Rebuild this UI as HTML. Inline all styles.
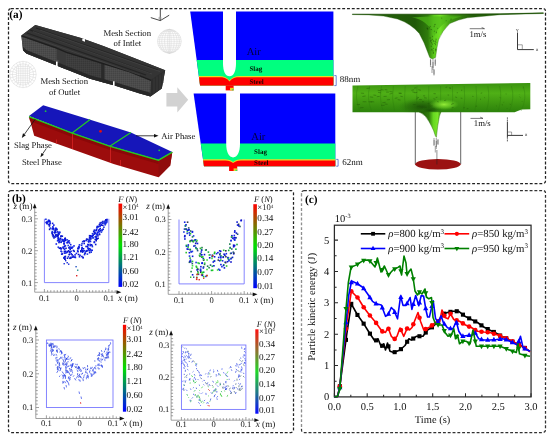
<!DOCTYPE html>
<html lang="en"><head><meta charset="utf-8"><title>Figure</title>
<style>html,body{margin:0;padding:0;background:#fff;}body{width:550px;height:440px;overflow:hidden;}svg{display:block;font-family:"Liberation Serif",serif;text-rendering:geometricPrecision;}</style></head><body>
<svg width="550" height="440" viewBox="0 0 550 440">
<defs>
<linearGradient id="cbar" x1="0" y1="0" x2="0" y2="1"><stop offset="0" stop-color="#ff0000"/><stop offset="0.5" stop-color="#00e000"/><stop offset="1" stop-color="#0000ff"/></linearGradient>
<linearGradient id="cbar2" x1="0" y1="0" x2="0" y2="1"><stop offset="0" stop-color="#ff1010"/><stop offset="0.25" stop-color="#907030"/><stop offset="0.5" stop-color="#20d828"/><stop offset="0.75" stop-color="#207888"/><stop offset="1" stop-color="#0808ff"/></linearGradient>
<linearGradient id="gslab" x1="0" y1="0" x2="0" y2="1"><stop offset="0" stop-color="#3a920f"/><stop offset="0.35" stop-color="#4fb016"/><stop offset="0.75" stop-color="#3a920f"/><stop offset="1" stop-color="#2c820b"/></linearGradient>
<linearGradient id="gfun" gradientUnits="userSpaceOnUse" x1="396" y1="0" x2="472" y2="0"><stop offset="0" stop-color="#225c09"/><stop offset="0.25" stop-color="#1f5808"/><stop offset="0.42" stop-color="#2f7c0c"/><stop offset="0.5" stop-color="#5ccc1c"/><stop offset="0.58" stop-color="#72e226"/><stop offset="0.72" stop-color="#3f9812"/><stop offset="1" stop-color="#225c09"/></linearGradient>
<linearGradient id="gfun2" gradientUnits="userSpaceOnUse" x1="419" y1="0" x2="441" y2="0"><stop offset="0" stop-color="#1f5808"/><stop offset="0.45" stop-color="#2f7c0c"/><stop offset="0.65" stop-color="#66d820"/><stop offset="0.85" stop-color="#7ae62a"/><stop offset="1" stop-color="#3a8f10"/></linearGradient>
<radialGradient id="gtop" cx="0.5" cy="0.1" r="0.6"><stop offset="0" stop-color="#6ed422"/><stop offset="1" stop-color="#3a9410"/></radialGradient>
<pattern id="mesh" width="2" height="2" patternUnits="userSpaceOnUse"><rect width="2" height="2" fill="#444"/><path d="M0 0H2M0 0V2" stroke="#606060" stroke-width="0.5"/></pattern>
<radialGradient id="dipShadow" cx="0.5" cy="0.5" r="0.5"><stop offset="0" stop-color="#184a06" stop-opacity="0.85"/><stop offset="0.6" stop-color="#1f5c08" stop-opacity="0.45"/><stop offset="1" stop-color="#2a7a0c" stop-opacity="0"/></radialGradient>
<radialGradient id="dipLight" cx="0.5" cy="0.5" r="0.5"><stop offset="0" stop-color="#98f03a" stop-opacity="0.95"/><stop offset="0.6" stop-color="#7ade2a" stop-opacity="0.5"/><stop offset="1" stop-color="#60c81e" stop-opacity="0"/></radialGradient>
<clipPath id="slabClip"><polygon points="352.5,85.6 530.3,83 530.3,109.3 521.5,109.5 514.6,112.3 352.5,112.3"/></clipPath>
</defs>
<rect width="550" height="440" fill="#fff"/>
<rect x="8.5" y="8.5" width="537.0" height="175.0" rx="2.5" ry="2.5" fill="none" stroke="#222" stroke-width="1.25" stroke-dasharray="2.9 1.9"/>
<rect x="8.5" y="190.5" width="285.0" height="242.0" rx="2.5" ry="2.5" fill="none" stroke="#222" stroke-width="1.25" stroke-dasharray="2.9 1.9"/>
<rect x="301.5" y="190.5" width="244.0" height="242.0" rx="2.5" ry="2.5" fill="none" stroke="#333" stroke-width="1.25" stroke-dasharray="2.9 1.9"/>
<line x1="301.5" y1="194" x2="301.5" y2="429" stroke="#fff" stroke-width="2.2" opacity="0.45"/>
<text x="9.3" y="17.6" font-size="11.3" text-anchor="start" font-weight="bold" font-style="normal" fill="#000" >(a)</text>
<text x="12.0" y="202.4" font-size="11.3" text-anchor="start" font-weight="bold" font-style="normal" fill="#000" >(b)</text>
<text x="305.0" y="202.6" font-size="11.3" text-anchor="start" font-weight="bold" font-style="normal" fill="#000" >(c)</text>
<g id="meshTundish">
<polygon points="21.4,35.5 35.3,24.9 81.1,38 104,46.2 132.2,57.2 165.2,70.2 161.8,88.4 150.5,96.4 139,93.2 116.2,86 90,78.8 56.6,65.6 26.3,53.6 23,50.3" fill="#333"/>
<polygon points="21.4,35.5 35.3,24.9 81.1,38 104,46.2 132.2,57.2 165.2,70.2 151,79.9 130,71.4 104,63.4 66.4,51.9 56.6,47.8" fill="#343434"/>
<polygon points="21.4,36.2 56.6,48.5 66.4,52.6 104,64.1 130,72.1 151,80.6 150.5,96.4 139,93.2 116.2,86 90,78.8 56.6,65.6 26.3,53.6 23,50.3" fill="url(#mesh)"/>
<polygon points="66.4,52.6 104,64.1 104,82.6 90,78.8 66.4,69.4" fill="#000" opacity="0.18"/>
<polygon points="56.6,48.5 66.4,52.6 66.4,69.4 58.6,66.4 58.6,60 56.6,59.4" fill="#3a3a3a"/>
<polygon points="101.2,63.2 104.6,64.3 104.6,82.7 101.2,81.7" fill="#2a2a2a"/>
<polygon points="151,80 165.2,70.2 161.8,88.4 150.5,96.4" fill="#2c2c2c"/>
<path d="M154,78.5V93.5M157,76.5V91.5M160,74.5V89.5M163,72.5V83" stroke="#3e3e3e" stroke-width="0.8" fill="none"/>
<polygon points="23,46.8 26.3,50 56.6,62 90,75.2 116.2,82.4 139,89.6 150.5,92.8 150.5,96.4 139,93.2 116.2,86 90,78.8 56.6,65.6 26.3,53.6 23,50.3" fill="#272727"/>
<polyline points="21.4,35.9 56.6,48.2 66.4,52.3 104,63.8 130,71.8 151,80.3" fill="none" stroke="#1e1e1e" stroke-width="1.3"/>
<path d="M30,30L150,73M27,33L146,75M36,28L158,70" stroke="#242424" stroke-width="1.1" fill="none"/>
<path d="M33,31.5L152,74M40,30L160,71.5M24,34.6L140,75" stroke="#4a4a4a" stroke-width="0.6" fill="none"/>
<path d="M82.3,38.4l2.7,0.9v2.4l-2.7,-0.9z" fill="#fff"/>
<rect x="56" y="61.6" width="1.6" height="5" fill="#fff"/>
<rect x="113" y="81.3" width="1.6" height="4.8" fill="#fff"/>
</g>
<g fill="none" stroke="#d2d2d2" stroke-width="0.45">
<circle cx="23" cy="74.5" r="13.2"/>
<circle cx="23" cy="74.5" r="10.6"/>
<rect x="16.4" y="66.3" width="13.2" height="16.4" rx="2" ry="2"/>
<path d="M18.6,66.3V82.7M20.8,66.3V82.7M23.0,66.3V82.7M25.2,66.3V82.7M27.4,66.3V82.7M16.4,68.7H29.6M16.4,71.0H29.6M16.4,73.3H29.6M16.4,75.7H29.6M16.4,78.0H29.6M16.4,80.3H29.6M29.6,74.5L36.2,74.5M29.6,76.3L35.8,77.9M29.6,78.3L34.4,81.1M29.6,81.1L32.3,83.8M27.7,82.7L29.6,85.9M25.2,82.7L26.4,87.3M23.0,82.7L23.0,87.7M20.8,82.7L19.6,87.3M18.3,82.7L16.4,85.9M16.4,81.1L13.7,83.8M16.4,78.3L11.6,81.1M16.4,76.3L10.2,77.9M16.4,74.5L9.8,74.5M16.4,72.7L10.2,71.1M16.4,70.7L11.6,67.9M16.4,67.9L13.7,65.2M18.3,66.3L16.4,63.1M20.8,66.3L19.6,61.7M23.0,66.3L23.0,61.3M25.2,66.3L26.4,61.7M27.7,66.3L29.6,63.1M29.6,67.9L32.3,65.2M29.6,70.7L34.4,67.9M29.6,72.7L35.8,71.1"/>
</g>
<g fill="none" stroke="#d2d2d2" stroke-width="0.45">
<circle cx="169.4" cy="41.3" r="11.9"/>
<path d="M162.8,31.4H176.0M160.5,33.4H178.3M159.1,35.4H179.7M158.2,37.3H180.6M157.7,39.3H181.1M157.5,41.3H181.3M157.7,43.3H181.1M158.2,45.3H180.6M159.1,47.2H179.7M160.5,49.2H178.3M162.8,51.2H176.0"/>
<ellipse cx="169.4" cy="41.3" rx="1.8" ry="11.9"/>
<ellipse cx="169.4" cy="41.3" rx="4.8" ry="11.9"/>
<ellipse cx="169.4" cy="41.3" rx="7.7" ry="11.9"/>
<ellipse cx="169.4" cy="41.3" rx="10.1" ry="11.9"/>
<line x1="169.4" y1="29.4" x2="169.4" y2="53.199999999999996"/>
</g>
<path d="M160.3,8.8V20.6L150.8,17.6M160.3,20.6L169.2,15.2" stroke="#333" stroke-width="0.9" fill="none"/>
<circle cx="160" cy="18" r="1.6" fill="#999" opacity="0.7"/>
<text x="127.3" y="36.0" font-size="8.7" text-anchor="middle" font-weight="normal" font-style="normal" fill="#111" >Mesh Section</text>
<text x="127.3" y="46.3" font-size="8.7" text-anchor="middle" font-weight="normal" font-style="normal" fill="#111" >of Intlet</text>
<text x="64.3" y="84.0" font-size="8.7" text-anchor="middle" font-weight="normal" font-style="normal" fill="#111" >Mesh Section</text>
<text x="64.5" y="95.0" font-size="8.7" text-anchor="middle" font-weight="normal" font-style="normal" fill="#111" >of Outlet</text>
<g id="colTundish">
<polygon points="29,116.4 34.2,135.8 65.3,146.8 113.6,164.1 158.5,177.2 170.2,165.5 172.3,152 158.5,160 110.2,146.1 72.2,133" fill="#9c0c0c"/>
<polygon points="158.5,160 172.3,152 170.2,165.5 158.5,177.2" fill="#900c0c"/>
<polygon points="29,116.4 72.2,133 110.2,146.1 158.5,160 158.5,164 110.2,150 72.2,137 30,121" fill="#8a0808"/>
<polygon points="29,116 43.2,105.3 89.5,119.6 130.9,132.5 172.3,152 158.5,160 110.2,146.1 72.2,133" fill="#1616ba"/>
<polyline points="29,116.6 72.2,133.2 110.2,146.3 158.5,160.2 172.3,152.2" fill="none" stroke="#22cc22" stroke-width="1.4"/>
<path d="M72.2,133L90.1,119.6M110.2,146.1L130.9,132.5" stroke="#22cc22" stroke-width="1.2" fill="none"/>
<path d="M72.5,134V149M110.5,147V163M56.5,139.5V143.5M120.5,160V166" stroke="#d02020" stroke-width="0.9" fill="none"/>
<circle cx="100.5" cy="131.3" r="1.4" fill="#e01010"/>
<circle cx="45.6" cy="111.2" r="0.9" fill="#20c040"/>
<circle cx="159.2" cy="150.3" r="0.9" fill="#20c040"/>
</g>
<line x1="136.0" y1="135.8" x2="154.0" y2="135.8" stroke="#111" stroke-width="0.8"/>
<polygon points="158.5,135.8 154.0,137.5 154.0,134.1" fill="#111"/>
<line x1="35.5" y1="118.8" x2="24.4" y2="134.3" stroke="#111" stroke-width="0.8"/>
<polygon points="21.8,138.0 23.0,133.3 25.8,135.3" fill="#111"/>
<line x1="46.3" y1="148.5" x2="42.6" y2="153.9" stroke="#111" stroke-width="0.8"/>
<polygon points="40.4,157.2 41.4,153.0 43.9,154.7" fill="#111"/>
<text x="161.3" y="138.6" font-size="8.7" text-anchor="start" font-weight="normal" font-style="normal" fill="#111" >Air Phase</text>
<text x="14.0" y="148.0" font-size="8.7" text-anchor="start" font-weight="normal" font-style="normal" fill="#111" >Slag Phase</text>
<text x="22.0" y="165.2" font-size="8.7" text-anchor="start" font-weight="normal" font-style="normal" fill="#111" >Steel Phase</text>
<polygon points="166.4,93.1 177.3,93.1 177.3,87.3 188.2,99.7 177.3,112.4 177.3,106.4 166.4,106.4" fill="#d2d2d2"/>
<polygon points="190.2,11.4 333.4,11.4 333.4,85.6 200.1,85.6" fill="#0000ff"/>
<polygon points="196.7,60.0 333.4,60.0 333.4,85.6 200.1,85.6" fill="#00ff7f"/>
<polygon points="198.8,76.1 333.4,76.1 333.4,85.6 200.1,85.6" fill="#f0d820"/>
<polygon points="199.0,77.2 333.4,77.2 333.4,85.6 200.1,85.6" fill="#ff0000"/>
<path d="M216.0,76.0 Q226.2,76.6 229.5,81.6 Q232.8,76.6 243.0,76.0 Z" fill="#f0d820"/>
<path d="M219.0,75.9 Q226.6,76.0 229.5,80.5 Q232.4,76.0 240.0,75.9 Z" fill="#00ff7f"/>
<rect x="225.7" y="85.4" width="7.9" height="5.0" fill="#ff0000"/>
<rect x="230.0" y="87.8" width="3.6" height="2.6" fill="#f0d020"/>
<rect x="231.9" y="89.1" width="1.7" height="1.3" fill="#40e060"/>
<path d="M223,10.9 V63.3 C223,71.8 225.6,76.3 229.5,76.3 C233.4,76.3 236,71.8 236,63.3 V10.9 Z" fill="#fff"/>
<text x="246.7" y="54.5" font-size="10.5" text-anchor="start" font-weight="normal" font-style="normal" fill="#000038" >Air</text>
<text x="249.4" y="70.7" font-size="7" text-anchor="start" font-weight="bold" font-style="normal" fill="#001808" >Slag</text>
<text x="249.4" y="83.6" font-size="7" text-anchor="start" font-weight="bold" font-style="normal" fill="#300000" >Steel</text>
<polygon points="193.6,93.6 335.3,93.6 335.3,166.2 204,166.2" fill="#0000ff"/>
<polygon points="200.8,143.6 335.3,143.6 335.3,166.2 204,166.2" fill="#00ff7f"/>
<polygon points="203.0,159.3 335.3,159.3 335.3,166.2 204,166.2" fill="#f0d820"/>
<polygon points="203.2,160.4 335.3,160.4 335.3,166.2 204,166.2" fill="#ff0000"/>
<path d="M219.2,159.2 Q229.6,159.8 233.1,163.1 Q236.6,159.8 247.0,159.2 Z" fill="#f0d820"/>
<path d="M222.2,159.1 Q230.0,159.2 233.1,162.0 Q236.2,159.2 244.0,159.1 Z" fill="#00ff7f"/>
<rect x="229.1" y="166.0" width="8.1" height="5.0" fill="#ff0000"/>
<rect x="233.6" y="168.4" width="3.6" height="2.6" fill="#f0d020"/>
<rect x="235.4" y="169.7" width="1.8" height="1.3" fill="#40e060"/>
<path d="M226.2,93.1 V143.6 C226.2,152.6 229.0,157.4 233.1,157.4 C237.2,157.4 240,152.6 240,143.6 V93.1 Z" fill="#fff"/>
<text x="251.3" y="139.6" font-size="10.5" text-anchor="start" font-weight="normal" font-style="normal" fill="#000038" >Air</text>
<text x="254.1" y="154.1" font-size="7" text-anchor="start" font-weight="bold" font-style="normal" fill="#001808" >Slag</text>
<text x="254.1" y="165.2" font-size="7" text-anchor="start" font-weight="bold" font-style="normal" fill="#300000" >Steel</text>
<path d="M334.3,75.6H336.2V85.6H334.3" fill="none" stroke="#3050c0" stroke-width="0.7"/>
<path d="M336.2,159.4H338.1V166.2H336.2" fill="none" stroke="#3050c0" stroke-width="0.7"/>
<text x="339.7" y="81.5" font-size="9" text-anchor="start" font-weight="normal" font-style="normal" fill="#111" >88nm</text>
<text x="342.2" y="164.7" font-size="9" text-anchor="start" font-weight="normal" font-style="normal" fill="#111" >62nm</text>
<g id="vortex1">
<path d="M352.3,14.6 L369,14.9 L383.6,16.1 L397.5,19 Q410.5,23.4 419.3,33.4 Q424.7,43 428,53 L429.7,57.4 L432.4,59 L435.6,57.4 Q436.7,48 438.5,39.9 Q442,31 449.8,23.5 Q458,19.6 467.3,17.8 L500,14.7 L543.4,13.5 L543.4,12.8 L500,13.7 L440,14.2 L380,14.3 L352.3,14.2 Z" fill="url(#gfun)" stroke="#245f08" stroke-width="0.35"/>
<path d="M352.3,14.3 L440,14.3 L500,14 L543.4,13.1" stroke="#1d4c08" stroke-width="0.65" fill="none"/>
<path d="M412,17.5 Q428,20 434.5,36 Q440,21 462,16.5 Q435,15.6 412,17.5 Z" fill="#4fb818" opacity="0.7"/>
<g stroke="#143805" stroke-width="0.5" opacity="0.85">
<line x1="434.3" y1="25.8" x2="434.1" y2="27.2"/>
<line x1="431.0" y1="40.2" x2="430.4" y2="41.8"/>
<line x1="429.2" y1="26.6" x2="429.8" y2="27.9"/>
<line x1="433.4" y1="47.9" x2="433.6" y2="48.9"/>
<line x1="435.6" y1="40.5" x2="435.6" y2="42.0"/>
<line x1="431.2" y1="41.8" x2="431.5" y2="43.2"/>
<line x1="427.0" y1="28.1" x2="427.5" y2="29.4"/>
<line x1="435.4" y1="43.6" x2="435.7" y2="45.3"/>
<line x1="436.5" y1="31.6" x2="436.5" y2="33.3"/>
<line x1="431.8" y1="49.5" x2="431.3" y2="50.5"/>
<line x1="433.2" y1="52.7" x2="433.4" y2="53.8"/>
<line x1="432.7" y1="35.8" x2="432.5" y2="37.2"/>
<line x1="436.0" y1="38.6" x2="436.2" y2="40.3"/>
<line x1="435.7" y1="48.7" x2="435.9" y2="49.6"/>
<line x1="435.5" y1="48.8" x2="436.0" y2="50.2"/>
<line x1="432.0" y1="43.4" x2="432.4" y2="44.8"/>
<line x1="427.1" y1="27.5" x2="427.6" y2="29.3"/>
<line x1="446.2" y1="20.3" x2="446.1" y2="21.2"/>
<line x1="437.3" y1="27.9" x2="437.7" y2="28.7"/>
<line x1="430.8" y1="39.7" x2="431.1" y2="40.9"/>
<line x1="435.6" y1="49.6" x2="435.6" y2="51.4"/>
<line x1="427.9" y1="28.5" x2="428.0" y2="29.3"/>
<line x1="434.6" y1="24.3" x2="434.7" y2="25.3"/>
<line x1="451.1" y1="18.6" x2="450.9" y2="20.3"/>
<line x1="433.0" y1="50.2" x2="432.9" y2="51.5"/>
<line x1="434.0" y1="40.8" x2="434.1" y2="42.2"/>
<line x1="433.5" y1="51.8" x2="433.4" y2="53.3"/>
<line x1="430.0" y1="25.8" x2="430.6" y2="27.1"/>
<line x1="430.2" y1="37.3" x2="430.1" y2="38.7"/>
<line x1="441.6" y1="17.7" x2="441.7" y2="18.6"/>
<line x1="433.3" y1="40.2" x2="433.5" y2="41.4"/>
<line x1="434.7" y1="43.2" x2="434.1" y2="44.0"/>
<line x1="436.0" y1="42.0" x2="435.7" y2="43.3"/>
<line x1="432.4" y1="38.9" x2="432.2" y2="40.0"/>
<line x1="434.5" y1="30.7" x2="434.3" y2="31.8"/>
<line x1="431.3" y1="45.6" x2="431.3" y2="47.1"/>
<line x1="429.8" y1="28.5" x2="430.2" y2="29.5"/>
<line x1="435.1" y1="23.9" x2="435.4" y2="24.8"/>
<line x1="431.4" y1="28.9" x2="431.8" y2="30.2"/>
<line x1="432.0" y1="48.7" x2="431.9" y2="50.1"/>
</g>
<path d="M430.5,58.5V67M433,59V70M435.3,58.5V66M432,66V73M434,69V75.5" stroke="#aaa" stroke-width="1.1" fill="none"/>
<path d="M430.6,60V65M433,62V68M435.2,60V64.5M434,70V74.5" stroke="#333" stroke-width="0.45" fill="none"/>
</g>
<path d="M469.7,28.7H484.5M484.5,28.7l-2.8,-1.2" stroke="#222" stroke-width="0.6" fill="none"/>
<text x="469.5" y="36.8" font-size="8.7" text-anchor="start" font-weight="normal" font-style="normal" fill="#111" >1m/s</text>
<path d="M517.5,32.5V49.6H533.8" stroke="#222" stroke-width="0.9" fill="none"/><path d="M517.5,44.8H522.3V49.6" stroke="#444" stroke-width="0.5" fill="none"/>
<text x="517.2" y="31.5" font-size="4.5" text-anchor="middle" font-weight="normal" font-style="normal" fill="#111" font-family="Liberation Sans, sans-serif">Y</text>
<text x="536.0" y="50.5" font-size="4.5" text-anchor="start" font-weight="normal" font-style="normal" fill="#111" font-family="Liberation Sans, sans-serif">x</text>
<g id="vortex2">
<path d="M415.3,110V164.2M460.7,110V164.2" stroke="#222" stroke-width="0.7" fill="none"/>
<ellipse cx="437.9" cy="164.3" rx="22.7" ry="5.3" fill="#9b1212"/>
<path d="M436.9,150V164.5" stroke="#222" stroke-width="0.5"/>
<polygon points="352.5,85.6 530.3,83 530.3,109.3 521.5,109.5 514.6,112.3 352.5,112.3" fill="url(#gslab)"/>
<g stroke="#2d7a0c" stroke-width="0.5" fill="none" opacity="0.7">
<path d="M358.0,86 q-4.0,12 2.0,25"/>
<path d="M369.8,86 q-3.4,12 1.7,25"/>
<path d="M381.6,86 q-2.8,12 1.4,25"/>
<path d="M393.4,86 q-2.2,12 1.1,25"/>
<path d="M405.2,86 q-1.6,12 0.8,25"/>
<path d="M417.0,86 q-1.0,12 0.5,25"/>
<path d="M428.8,86 q-0.4,12 0.2,25"/>
<path d="M440.6,86 q0.2,12 -0.1,25"/>
<path d="M452.4,86 q0.8,12 -0.4,25"/>
<path d="M464.2,86 q1.4,12 -0.7,25"/>
<path d="M476.0,86 q2.0,12 -1.0,25"/>
<path d="M487.8,86 q2.5,12 -1.3,25"/>
<path d="M499.6,86 q3.1,12 -1.6,25"/>
<path d="M511.4,86 q3.7,12 -1.9,25"/>
<path d="M523.2,86 q4.3,12 -2.2,25"/>
</g>
<g clip-path="url(#slabClip)">
<ellipse cx="422" cy="107" rx="24" ry="9" fill="url(#dipShadow)"/>
<ellipse cx="430" cy="110.5" rx="9" ry="4" fill="url(#dipShadow)"/>
<ellipse cx="444" cy="104.5" rx="15" ry="5.5" fill="url(#dipLight)"/>
</g>
<g stroke="#1f5207" stroke-width="0.5" opacity="0.8">
<line x1="411.4" y1="90.3" x2="414.0" y2="89.8"/>
<line x1="447.6" y1="95.0" x2="449.1" y2="95.1"/>
<line x1="362.4" y1="96.5" x2="365.6" y2="96.0"/>
<line x1="428.6" y1="105.2" x2="430.5" y2="104.9"/>
<line x1="463.3" y1="107.8" x2="464.8" y2="107.7"/>
<line x1="522.9" y1="88.0" x2="523.5" y2="87.8"/>
<line x1="380.7" y1="89.6" x2="383.6" y2="90.0"/>
<line x1="386.9" y1="99.8" x2="390.0" y2="99.6"/>
<line x1="449.7" y1="88.4" x2="451.1" y2="88.0"/>
<line x1="472.3" y1="96.4" x2="473.5" y2="96.5"/>
<line x1="433.5" y1="93.6" x2="435.8" y2="93.8"/>
<line x1="397.7" y1="99.6" x2="400.5" y2="100.1"/>
<line x1="480.7" y1="93.3" x2="482.2" y2="92.9"/>
<line x1="427.5" y1="103.7" x2="429.4" y2="103.6"/>
<line x1="362.7" y1="101.7" x2="366.4" y2="101.8"/>
<line x1="505.7" y1="93.9" x2="506.5" y2="94.0"/>
<line x1="455.2" y1="97.0" x2="457.1" y2="97.6"/>
<line x1="437.1" y1="101.6" x2="438.7" y2="101.9"/>
<line x1="466.7" y1="108.8" x2="468.3" y2="108.6"/>
<line x1="422.0" y1="101.7" x2="423.9" y2="101.7"/>
<line x1="384.7" y1="89.6" x2="387.4" y2="89.9"/>
<line x1="378.1" y1="92.4" x2="381.2" y2="92.9"/>
<line x1="369.8" y1="96.9" x2="373.2" y2="97.3"/>
<line x1="496.1" y1="106.0" x2="496.7" y2="105.9"/>
<line x1="417.3" y1="106.5" x2="420.1" y2="106.0"/>
<line x1="386.1" y1="92.1" x2="388.9" y2="92.1"/>
<line x1="456.7" y1="92.8" x2="457.9" y2="92.7"/>
<line x1="419.1" y1="99.5" x2="421.9" y2="99.7"/>
<line x1="444.1" y1="100.6" x2="446.1" y2="100.1"/>
<line x1="509.8" y1="104.2" x2="510.7" y2="104.5"/>
<line x1="423.1" y1="95.8" x2="425.1" y2="95.9"/>
<line x1="366.6" y1="88.5" x2="369.8" y2="88.1"/>
<line x1="414.1" y1="88.2" x2="416.2" y2="87.7"/>
<line x1="373.4" y1="95.0" x2="376.2" y2="95.4"/>
<line x1="461.0" y1="90.3" x2="462.3" y2="90.1"/>
<line x1="418.3" y1="89.7" x2="420.9" y2="90.3"/>
<line x1="435.7" y1="97.6" x2="437.4" y2="97.2"/>
<line x1="414.6" y1="92.8" x2="417.3" y2="92.4"/>
<line x1="359.9" y1="107.9" x2="363.5" y2="107.5"/>
<line x1="448.9" y1="87.6" x2="450.7" y2="88.2"/>
<line x1="503.6" y1="102.3" x2="504.1" y2="102.2"/>
<line x1="384.6" y1="104.0" x2="387.6" y2="104.3"/>
<line x1="412.4" y1="91.9" x2="415.1" y2="92.5"/>
<line x1="501.8" y1="104.7" x2="502.8" y2="105.0"/>
<line x1="394.8" y1="98.4" x2="397.5" y2="97.8"/>
<line x1="360.8" y1="93.1" x2="364.1" y2="93.4"/>
<line x1="519.6" y1="96.8" x2="520.3" y2="97.4"/>
<line x1="519.3" y1="95.0" x2="519.4" y2="94.7"/>
<line x1="389.6" y1="91.5" x2="392.7" y2="92.0"/>
<line x1="499.7" y1="97.5" x2="500.6" y2="97.9"/>
<line x1="370.5" y1="101.5" x2="374.2" y2="101.9"/>
<line x1="484.3" y1="97.5" x2="485.1" y2="97.9"/>
<line x1="412.9" y1="104.6" x2="415.7" y2="104.5"/>
<line x1="424.6" y1="107.8" x2="427.1" y2="107.4"/>
<line x1="377.7" y1="90.3" x2="381.2" y2="90.7"/>
<line x1="381.0" y1="105.2" x2="384.5" y2="105.4"/>
<line x1="415.9" y1="99.1" x2="418.0" y2="98.5"/>
<line x1="522.0" y1="101.3" x2="522.3" y2="101.8"/>
<line x1="430.2" y1="106.2" x2="432.6" y2="105.8"/>
<line x1="399.1" y1="93.4" x2="401.6" y2="93.5"/>
<line x1="400.4" y1="96.2" x2="402.8" y2="96.7"/>
<line x1="416.5" y1="97.1" x2="419.0" y2="97.6"/>
<line x1="427.9" y1="107.2" x2="430.1" y2="107.2"/>
<line x1="445.5" y1="87.4" x2="447.3" y2="87.0"/>
<line x1="356.7" y1="104.6" x2="360.0" y2="104.5"/>
<line x1="480.0" y1="99.2" x2="481.0" y2="99.3"/>
<line x1="451.0" y1="104.3" x2="452.4" y2="104.3"/>
<line x1="398.5" y1="93.1" x2="401.5" y2="93.1"/>
<line x1="452.1" y1="103.7" x2="454.1" y2="103.7"/>
<line x1="460.7" y1="98.1" x2="462.3" y2="98.4"/>
<line x1="433.4" y1="98.7" x2="435.4" y2="99.3"/>
<line x1="475.6" y1="106.3" x2="477.1" y2="106.0"/>
<line x1="451.7" y1="107.8" x2="453.7" y2="107.3"/>
<line x1="376.8" y1="96.7" x2="379.7" y2="96.4"/>
<line x1="368.5" y1="101.7" x2="372.1" y2="102.2"/>
<line x1="382.4" y1="102.8" x2="385.6" y2="102.3"/>
<line x1="507.0" y1="108.3" x2="507.3" y2="108.8"/>
<line x1="424.1" y1="97.7" x2="426.8" y2="98.1"/>
<line x1="383.6" y1="96.5" x2="386.7" y2="96.3"/>
<line x1="389.5" y1="94.0" x2="392.6" y2="93.4"/>
</g>
<path d="M419,111.8 Q426,115 429,121.6 Q431.8,126.5 433.5,130.4 L435.4,136 L436.4,137.3 L437.2,130.4 Q437.6,126 438.5,121.6 Q439,116 441,111.8 Z" fill="url(#gfun2)" stroke="#245f08" stroke-width="0.4"/>
<path d="M434,138V146M436.3,138V149M438,139V145M435.3,146V152.5" stroke="#aaa" stroke-width="1.1" fill="none"/>
<path d="M434.1,140V145M436.3,141V147M437.9,140V144" stroke="#333" stroke-width="0.45" fill="none"/>
</g>
<path d="M470.5,118.4H483M483,118.4l-2.8,-1.2" stroke="#222" stroke-width="0.6" fill="none"/>
<text x="473.8" y="126.3" font-size="8.7" text-anchor="start" font-weight="normal" font-style="normal" fill="#111" >1m/s</text>
<path d="M507.4,121.5V137.5M507.4,135.4H523" stroke="#222" stroke-width="0.9" fill="none"/>
<path d="M507.4,132H511.6V135.4" stroke="#444" stroke-width="0.5" fill="none"/>
<path d="M507.4,117.5V121.5M507.4,137.5V142" stroke="#222" stroke-width="0.9" stroke-dasharray="1.2 0.9"/>
<text x="525.0" y="136.0" font-size="4.5" text-anchor="start" font-weight="normal" font-style="normal" fill="#111" font-family="Liberation Sans, sans-serif">x</text>
<path d="M34.7,206.5V292.2H118.3" fill="none" stroke="#787878" stroke-width="0.7"/>
<polygon points="34.7,203.5 32.800000000000004,208.3 36.6,208.3" fill="#111"/>
<polygon points="121.3,292.2 116.5,290.3 116.5,294.09999999999997" fill="#111"/>
<path d="M44.4,292.2v-3.2M47.6,292.2v-2M50.8,292.2v-2M54.1,292.2v-2M57.3,292.2v-2M60.5,292.2v-2M63.7,292.2v-2M66.9,292.2v-2M70.2,292.2v-2M73.4,292.2v-2M76.6,292.2v-3.2M79.8,292.2v-2M83.0,292.2v-2M86.3,292.2v-2M89.5,292.2v-2M92.7,292.2v-2M95.9,292.2v-2M99.1,292.2v-2M102.4,292.2v-2M105.6,292.2v-2M108.8,292.2v-3.2M112.0,292.2v-2M115.2,292.2v-2M34.7,289.0h2M34.7,285.8h2M34.7,282.6h3.2M34.7,279.4h2M34.7,276.2h2M34.7,273.0h2M34.7,269.8h2M34.7,266.7h2M34.7,263.5h2M34.7,260.3h2M34.7,257.1h2M34.7,253.9h2M34.7,250.7h3.2M34.7,247.5h2M34.7,244.3h2M34.7,241.1h2M34.7,237.9h2M34.7,234.8h2M34.7,231.6h2M34.7,228.4h2M34.7,225.2h2M34.7,222.0h2M34.7,218.8h3.2M34.7,215.6h2M34.7,212.4h2" stroke="#787878" stroke-width="0.7" fill="none"/>
<path d="M44.4,218.8V282.6H108.8V218.8" fill="none" stroke="#7070ff" stroke-width="0.85"/>
<text x="32.2" y="221.7" font-size="8.5" text-anchor="end" font-weight="normal" font-style="normal" fill="#111" >0.3</text>
<text x="32.2" y="253.6" font-size="8.5" text-anchor="end" font-weight="normal" font-style="normal" fill="#111" >0.2</text>
<text x="32.2" y="285.5" font-size="8.5" text-anchor="end" font-weight="normal" font-style="normal" fill="#111" >0.1</text>
<text x="13.5" y="208.6" font-size="9.1" text-anchor="start" font-weight="normal" font-style="normal" fill="#111" ><tspan font-style="italic">z</tspan> (m)</text>
<text x="44.4" y="300.6" font-size="8.5" text-anchor="middle" font-weight="normal" font-style="normal" fill="#111" >0.1</text>
<text x="76.6" y="300.6" font-size="8.5" text-anchor="middle" font-weight="normal" font-style="normal" fill="#111" >0</text>
<text x="108.8" y="300.6" font-size="8.5" text-anchor="middle" font-weight="normal" font-style="normal" fill="#111" >0.1</text>
<text x="118.3" y="300.6" font-size="9.1" text-anchor="start" font-weight="normal" font-style="normal" fill="#111" ><tspan font-style="italic">x</tspan> (m)</text>
<rect x="118.5" y="203.6" width="3.7" height="83.3" fill="url(#cbar)"/>
<text x="118.3" y="202.0" font-size="8.5" text-anchor="start" font-weight="normal" font-style="normal" fill="#111" ><tspan font-style="italic">F</tspan> (<tspan font-style="italic">N</tspan>)</text>
<text x="122.6" y="209.7" font-size="8.6" text-anchor="start" font-weight="normal" font-style="normal" fill="#222" >×10<tspan font-size="5" dy="-2.6">4</tspan></text>
<text x="122.6" y="220.4" font-size="9.2" text-anchor="start" font-weight="normal" font-style="normal" fill="#111" >3.01</text>
<text x="122.6" y="234.6" font-size="9.2" text-anchor="start" font-weight="normal" font-style="normal" fill="#111" >2.42</text>
<text x="122.6" y="247.1" font-size="9.2" text-anchor="start" font-weight="normal" font-style="normal" fill="#111" >1.80</text>
<text x="122.6" y="260.0" font-size="9.2" text-anchor="start" font-weight="normal" font-style="normal" fill="#111" >1.21</text>
<text x="122.6" y="274.1" font-size="9.2" text-anchor="start" font-weight="normal" font-style="normal" fill="#111" >0.60</text>
<text x="122.6" y="286.7" font-size="9.2" text-anchor="start" font-weight="normal" font-style="normal" fill="#111" >0.02</text>
<path d="M168.2,207V294.3H254.5" fill="none" stroke="#787878" stroke-width="0.7"/>
<polygon points="168.2,204 166.29999999999998,208.8 170.1,208.8" fill="#111"/>
<polygon points="257.5,294.3 252.7,292.40000000000003 252.7,296.2" fill="#111"/>
<path d="M179.0,294.3v-3.2M182.3,294.3v-2M185.5,294.3v-2M188.8,294.3v-2M192.0,294.3v-2M195.3,294.3v-2M198.6,294.3v-2M201.8,294.3v-2M205.1,294.3v-2M208.3,294.3v-2M211.6,294.3v-3.2M214.9,294.3v-2M218.1,294.3v-2M221.4,294.3v-2M224.6,294.3v-2M227.9,294.3v-2M231.2,294.3v-2M234.4,294.3v-2M237.7,294.3v-2M240.9,294.3v-2M244.2,294.3v-3.2M247.5,294.3v-2M250.7,294.3v-2M168.2,290.3h2M168.2,287.1h2M168.2,283.9h3.2M168.2,280.7h2M168.2,277.5h2M168.2,274.2h2M168.2,271.0h2M168.2,267.8h2M168.2,264.6h2M168.2,261.4h2M168.2,258.1h2M168.2,254.9h2M168.2,251.7h3.2M168.2,248.5h2M168.2,245.3h2M168.2,242.0h2M168.2,238.8h2M168.2,235.6h2M168.2,232.4h2M168.2,229.2h2M168.2,225.9h2M168.2,222.7h2M168.2,219.5h3.2M168.2,216.3h2M168.2,213.1h2" stroke="#787878" stroke-width="0.7" fill="none"/>
<path d="M179,219.5V283.9H244.2V219.5" fill="none" stroke="#7070ff" stroke-width="0.85"/>
<text x="165.7" y="222.4" font-size="8.5" text-anchor="end" font-weight="normal" font-style="normal" fill="#111" >0.3</text>
<text x="165.7" y="254.6" font-size="8.5" text-anchor="end" font-weight="normal" font-style="normal" fill="#111" >0.2</text>
<text x="165.7" y="286.8" font-size="8.5" text-anchor="end" font-weight="normal" font-style="normal" fill="#111" >0.1</text>
<text x="146.2" y="209.0" font-size="9.1" text-anchor="start" font-weight="normal" font-style="normal" fill="#111" ><tspan font-style="italic">z</tspan> (m)</text>
<text x="179.0" y="303.2" font-size="8.5" text-anchor="middle" font-weight="normal" font-style="normal" fill="#111" >0.1</text>
<text x="211.6" y="303.2" font-size="8.5" text-anchor="middle" font-weight="normal" font-style="normal" fill="#111" >0</text>
<text x="244.2" y="303.2" font-size="8.5" text-anchor="middle" font-weight="normal" font-style="normal" fill="#111" >0.1</text>
<text x="254.0" y="303.2" font-size="9.1" text-anchor="start" font-weight="normal" font-style="normal" fill="#111" ><tspan font-style="italic">x</tspan> (m)</text>
<rect x="253.3" y="204.2" width="3.6" height="84.0" fill="url(#cbar)"/>
<text x="254.0" y="202.0" font-size="8.5" text-anchor="start" font-weight="normal" font-style="normal" fill="#111" ><tspan font-style="italic">F</tspan> (<tspan font-style="italic">N</tspan>)</text>
<text x="257.3" y="210.4" font-size="8.6" text-anchor="start" font-weight="normal" font-style="normal" fill="#222" >×10<tspan font-size="5" dy="-2.6">4</tspan></text>
<text x="257.3" y="221.1" font-size="9.2" text-anchor="start" font-weight="normal" font-style="normal" fill="#111" >0.34</text>
<text x="257.3" y="234.8" font-size="9.2" text-anchor="start" font-weight="normal" font-style="normal" fill="#111" >0.27</text>
<text x="257.3" y="247.6" font-size="9.2" text-anchor="start" font-weight="normal" font-style="normal" fill="#111" >0.20</text>
<text x="257.3" y="261.3" font-size="9.2" text-anchor="start" font-weight="normal" font-style="normal" fill="#111" >0.14</text>
<text x="257.3" y="274.9" font-size="9.2" text-anchor="start" font-weight="normal" font-style="normal" fill="#111" >0.07</text>
<text x="257.3" y="288.6" font-size="9.2" text-anchor="start" font-weight="normal" font-style="normal" fill="#111" >0.01</text>
<path d="M35.8,328.5V418.5H121.5" fill="none" stroke="#787878" stroke-width="0.7"/>
<polygon points="35.8,325.5 33.9,330.3 37.699999999999996,330.3" fill="#111"/>
<polygon points="124.5,418.5 119.7,416.6 119.7,420.4" fill="#111"/>
<path d="M46.4,418.5v-3.2M49.7,418.5v-2M53.1,418.5v-2M56.4,418.5v-2M59.7,418.5v-2M63.0,418.5v-2M66.4,418.5v-2M69.7,418.5v-2M73.0,418.5v-2M76.4,418.5v-2M79.7,418.5v-3.2M83.0,418.5v-2M86.4,418.5v-2M89.7,418.5v-2M93.0,418.5v-2M96.3,418.5v-2M99.7,418.5v-2M103.0,418.5v-2M106.3,418.5v-2M109.7,418.5v-2M113.0,418.5v-3.2M116.3,418.5v-2M35.8,414.2h2M35.8,410.9h2M35.8,407.5h3.2M35.8,404.1h2M35.8,400.8h2M35.8,397.4h2M35.8,394.0h2M35.8,390.6h2M35.8,387.2h2M35.8,383.9h2M35.8,380.5h2M35.8,377.1h2M35.8,373.8h3.2M35.8,370.4h2M35.8,367.0h2M35.8,363.6h2M35.8,360.2h2M35.8,356.9h2M35.8,353.5h2M35.8,350.1h2M35.8,346.8h2M35.8,343.4h2M35.8,340.0h3.2M35.8,336.6h2M35.8,333.2h2" stroke="#787878" stroke-width="0.7" fill="none"/>
<rect x="46.4" y="340" width="66.6" height="67.5" fill="none" stroke="#7070ff" stroke-width="0.85"/>
<text x="33.2" y="342.9" font-size="8.5" text-anchor="end" font-weight="normal" font-style="normal" fill="#111" >0.3</text>
<text x="33.2" y="376.6" font-size="8.5" text-anchor="end" font-weight="normal" font-style="normal" fill="#111" >0.2</text>
<text x="33.2" y="410.4" font-size="8.5" text-anchor="end" font-weight="normal" font-style="normal" fill="#111" >0.1</text>
<text x="13.0" y="330.2" font-size="9.1" text-anchor="start" font-weight="normal" font-style="normal" fill="#111" ><tspan font-style="italic">z</tspan> (m)</text>
<text x="46.4" y="426.4" font-size="8.5" text-anchor="middle" font-weight="normal" font-style="normal" fill="#111" >0.1</text>
<text x="79.7" y="426.4" font-size="8.5" text-anchor="middle" font-weight="normal" font-style="normal" fill="#111" >0</text>
<text x="113.0" y="426.4" font-size="8.5" text-anchor="middle" font-weight="normal" font-style="normal" fill="#111" >0.1</text>
<text x="123.0" y="426.4" font-size="9.1" text-anchor="start" font-weight="normal" font-style="normal" fill="#111" ><tspan font-style="italic">x</tspan> (m)</text>
<rect x="122.9" y="324.8" width="3.3" height="86.9" fill="url(#cbar)"/>
<text x="123.0" y="322.5" font-size="8.5" text-anchor="start" font-weight="normal" font-style="normal" fill="#111" ><tspan font-style="italic">F</tspan> (<tspan font-style="italic">N</tspan>)</text>
<text x="126.6" y="331.2" font-size="8.6" text-anchor="start" font-weight="normal" font-style="normal" fill="#222" >×10<tspan font-size="5" dy="-2.6">4</tspan></text>
<text x="126.6" y="342.4" font-size="9.2" text-anchor="start" font-weight="normal" font-style="normal" fill="#111" >3.01</text>
<text x="126.6" y="356.6" font-size="9.2" text-anchor="start" font-weight="normal" font-style="normal" fill="#111" >2.42</text>
<text x="126.6" y="369.9" font-size="9.2" text-anchor="start" font-weight="normal" font-style="normal" fill="#111" >1.80</text>
<text x="126.6" y="384.1" font-size="9.2" text-anchor="start" font-weight="normal" font-style="normal" fill="#111" >1.21</text>
<text x="126.6" y="398.3" font-size="9.2" text-anchor="start" font-weight="normal" font-style="normal" fill="#111" >0.60</text>
<text x="126.6" y="412.0" font-size="9.2" text-anchor="start" font-weight="normal" font-style="normal" fill="#111" >0.02</text>
<path d="M171.1,333.5V420.2H256.2" fill="none" stroke="#787878" stroke-width="0.7"/>
<polygon points="171.1,330.5 169.2,335.3 173.0,335.3" fill="#111"/>
<polygon points="259.2,420.2 254.39999999999998,418.3 254.39999999999998,422.09999999999997" fill="#111"/>
<path d="M181.4,420.2v-3.2M184.6,420.2v-2M187.8,420.2v-2M191.1,420.2v-2M194.3,420.2v-2M197.5,420.2v-2M200.8,420.2v-2M204.0,420.2v-2M207.2,420.2v-2M210.4,420.2v-2M213.7,420.2v-3.2M216.9,420.2v-2M220.1,420.2v-2M223.3,420.2v-2M226.6,420.2v-2M229.8,420.2v-2M233.0,420.2v-2M236.2,420.2v-2M239.4,420.2v-2M242.7,420.2v-2M245.9,420.2v-3.2M249.1,420.2v-2M252.4,420.2v-2M171.1,415.8h2M171.1,412.6h2M171.1,409.4h3.2M171.1,406.2h2M171.1,403.0h2M171.1,399.7h2M171.1,396.5h2M171.1,393.3h2M171.1,390.1h2M171.1,386.9h2M171.1,383.6h2M171.1,380.4h2M171.1,377.2h3.2M171.1,374.0h2M171.1,370.8h2M171.1,367.5h2M171.1,364.3h2M171.1,361.1h2M171.1,357.9h2M171.1,354.7h2M171.1,351.4h2M171.1,348.2h2M171.1,345.0h3.2M171.1,341.8h2M171.1,338.6h2" stroke="#787878" stroke-width="0.7" fill="none"/>
<rect x="181.4" y="345" width="64.5" height="64.4" fill="none" stroke="#7070ff" stroke-width="0.85"/>
<text x="169.3" y="347.9" font-size="8.5" text-anchor="end" font-weight="normal" font-style="normal" fill="#111" >0.3</text>
<text x="169.3" y="380.1" font-size="8.5" text-anchor="end" font-weight="normal" font-style="normal" fill="#111" >0.2</text>
<text x="169.3" y="412.3" font-size="8.5" text-anchor="end" font-weight="normal" font-style="normal" fill="#111" >0.1</text>
<text x="149.3" y="334.8" font-size="9.1" text-anchor="start" font-weight="normal" font-style="normal" fill="#111" ><tspan font-style="italic">z</tspan> (m)</text>
<text x="181.4" y="427.3" font-size="8.5" text-anchor="middle" font-weight="normal" font-style="normal" fill="#111" >0.1</text>
<text x="213.7" y="427.3" font-size="8.5" text-anchor="middle" font-weight="normal" font-style="normal" fill="#111" >0</text>
<text x="245.9" y="427.3" font-size="8.5" text-anchor="middle" font-weight="normal" font-style="normal" fill="#111" >0.1</text>
<text x="255.8" y="427.3" font-size="9.1" text-anchor="start" font-weight="normal" font-style="normal" fill="#111" ><tspan font-style="italic">x</tspan> (m)</text>
<rect x="255.3" y="329.3" width="3.2" height="84.4" fill="url(#cbar2)"/>
<text x="256.8" y="326.7" font-size="8.5" text-anchor="start" font-weight="normal" font-style="normal" fill="#111" ><tspan font-style="italic">F</tspan> (<tspan font-style="italic">N</tspan>)</text>
<text x="258.9" y="334.0" font-size="8.6" text-anchor="start" font-weight="normal" font-style="normal" fill="#222" >×10<tspan font-size="5" dy="-2.6">4</tspan></text>
<text x="258.9" y="347.2" font-size="9.2" text-anchor="start" font-weight="normal" font-style="normal" fill="#111" >0.34</text>
<text x="258.9" y="360.0" font-size="9.2" text-anchor="start" font-weight="normal" font-style="normal" fill="#111" >0.27</text>
<text x="258.9" y="373.3" font-size="9.2" text-anchor="start" font-weight="normal" font-style="normal" fill="#111" >0.20</text>
<text x="258.9" y="387.0" font-size="9.2" text-anchor="start" font-weight="normal" font-style="normal" fill="#111" >0.14</text>
<text x="258.9" y="400.6" font-size="9.2" text-anchor="start" font-weight="normal" font-style="normal" fill="#111" >0.07</text>
<text x="258.9" y="413.1" font-size="9.2" text-anchor="start" font-weight="normal" font-style="normal" fill="#111" >0.01</text>
<g id="p1">
<rect x="73.2" y="245.1" width="1.6" height="1.6" fill="#1020e8"/>
<rect x="93.9" y="230.0" width="1.6" height="1.6" fill="#2038e0"/>
<rect x="82.7" y="248.0" width="1.6" height="1.6" fill="#0818d0"/>
<rect x="47.7" y="219.5" width="1.6" height="1.6" fill="#1830e0"/>
<rect x="88.5" y="239.3" width="1.6" height="1.6" fill="#0c10c8"/>
<rect x="97.3" y="237.5" width="1.6" height="1.6" fill="#0c10c8"/>
<rect x="68.9" y="253.4" width="1.6" height="1.6" fill="#2038e0"/>
<rect x="60.9" y="253.4" width="1.6" height="1.6" fill="#1830e0"/>
<rect x="91.7" y="232.9" width="1.6" height="1.6" fill="#1830e0"/>
<rect x="55.1" y="229.0" width="1.6" height="1.6" fill="#0c10c8"/>
<rect x="90.0" y="235.0" width="1.6" height="1.6" fill="#0c10c8"/>
<rect x="70.4" y="257.1" width="1.6" height="1.6" fill="#1830e0"/>
<rect x="57.3" y="234.3" width="1.6" height="1.6" fill="#0818d0"/>
<rect x="62.6" y="247.4" width="1.6" height="1.6" fill="#0c10c8"/>
<rect x="59.2" y="239.3" width="1.6" height="1.6" fill="#1020e8"/>
<rect x="95.4" y="238.4" width="1.6" height="1.6" fill="#1830e0"/>
<rect x="103.1" y="226.4" width="1.6" height="1.6" fill="#2038e0"/>
<rect x="81.9" y="240.8" width="1.6" height="1.6" fill="#1830e0"/>
<rect x="104.5" y="220.1" width="1.6" height="1.6" fill="#0818d0"/>
<rect x="95.8" y="228.7" width="1.6" height="1.6" fill="#0a14e0"/>
<rect x="89.3" y="243.6" width="1.6" height="1.6" fill="#2038e0"/>
<rect x="56.8" y="235.5" width="1.6" height="1.6" fill="#1830e0"/>
<rect x="47.7" y="223.7" width="1.6" height="1.6" fill="#1020e8"/>
<rect x="52.2" y="235.7" width="1.6" height="1.6" fill="#2038e0"/>
<rect x="85.3" y="239.7" width="1.6" height="1.6" fill="#0818d0"/>
<rect x="46.1" y="222.8" width="1.6" height="1.6" fill="#0818d0"/>
<rect x="104.6" y="221.5" width="1.6" height="1.6" fill="#2038e0"/>
<rect x="90.3" y="249.9" width="1.6" height="1.6" fill="#1830e0"/>
<rect x="98.8" y="233.7" width="1.6" height="1.6" fill="#0c10c8"/>
<rect x="80.0" y="250.0" width="1.6" height="1.6" fill="#0a14e0"/>
<rect x="82.3" y="256.8" width="1.6" height="1.6" fill="#0818d0"/>
<rect x="68.4" y="246.9" width="1.6" height="1.6" fill="#0a14e0"/>
<rect x="96.7" y="225.6" width="1.6" height="1.6" fill="#0818d0"/>
<rect x="81.8" y="251.4" width="1.6" height="1.6" fill="#1830e0"/>
<rect x="101.9" y="222.4" width="1.6" height="1.6" fill="#1020e8"/>
<rect x="86.6" y="253.3" width="1.6" height="1.6" fill="#2038e0"/>
<rect x="64.5" y="245.0" width="1.6" height="1.6" fill="#1020e8"/>
<rect x="99.4" y="225.3" width="1.6" height="1.6" fill="#1830e0"/>
<rect x="52.5" y="234.4" width="1.6" height="1.6" fill="#0c10c8"/>
<rect x="61.3" y="238.7" width="1.6" height="1.6" fill="#0a14e0"/>
<rect x="57.4" y="237.3" width="1.6" height="1.6" fill="#0c10c8"/>
<rect x="72.4" y="255.3" width="1.6" height="1.6" fill="#1020e8"/>
<rect x="45.1" y="218.5" width="1.6" height="1.6" fill="#1830e0"/>
<rect x="96.2" y="226.6" width="1.6" height="1.6" fill="#0c10c8"/>
<rect x="83.5" y="250.0" width="1.6" height="1.6" fill="#1830e0"/>
<rect x="87.0" y="238.7" width="1.6" height="1.6" fill="#1830e0"/>
<rect x="88.9" y="240.0" width="1.6" height="1.6" fill="#1830e0"/>
<rect x="87.8" y="249.0" width="1.6" height="1.6" fill="#0a14e0"/>
<rect x="89.4" y="244.8" width="1.6" height="1.6" fill="#1020e8"/>
<rect x="101.2" y="229.3" width="1.6" height="1.6" fill="#1020e8"/>
<rect x="95.5" y="229.7" width="1.6" height="1.6" fill="#0c10c8"/>
<rect x="97.8" y="229.4" width="1.6" height="1.6" fill="#0a14e0"/>
<rect x="54.8" y="227.9" width="1.6" height="1.6" fill="#2038e0"/>
<rect x="53.3" y="235.8" width="1.6" height="1.6" fill="#0818d0"/>
<rect x="49.3" y="222.6" width="1.6" height="1.6" fill="#0c10c8"/>
<rect x="89.8" y="248.9" width="1.6" height="1.6" fill="#1020e8"/>
<rect x="79.2" y="254.5" width="1.6" height="1.6" fill="#0a14e0"/>
<rect x="100.6" y="231.3" width="1.6" height="1.6" fill="#2038e0"/>
<rect x="76.9" y="250.1" width="1.6" height="1.6" fill="#0818d0"/>
<rect x="102.1" y="220.7" width="1.6" height="1.6" fill="#0c10c8"/>
<rect x="63.9" y="256.8" width="1.6" height="1.6" fill="#1020e8"/>
<rect x="45.3" y="221.7" width="1.6" height="1.6" fill="#0c10c8"/>
<rect x="64.2" y="238.1" width="1.6" height="1.6" fill="#1830e0"/>
<rect x="89.9" y="237.3" width="1.6" height="1.6" fill="#0818d0"/>
<rect x="56.4" y="233.7" width="1.6" height="1.6" fill="#1830e0"/>
<rect x="69.9" y="243.9" width="1.6" height="1.6" fill="#1020e8"/>
<rect x="83.7" y="253.8" width="1.6" height="1.6" fill="#1830e0"/>
<rect x="58.6" y="247.4" width="1.6" height="1.6" fill="#0818d0"/>
<rect x="99.8" y="229.7" width="1.6" height="1.6" fill="#0818d0"/>
<rect x="51.8" y="222.6" width="1.6" height="1.6" fill="#0a14e0"/>
<rect x="104.9" y="222.8" width="1.6" height="1.6" fill="#1020e8"/>
<rect x="55.8" y="228.0" width="1.6" height="1.6" fill="#1020e8"/>
<rect x="78.7" y="244.1" width="1.6" height="1.6" fill="#1020e8"/>
<rect x="55.5" y="243.2" width="1.6" height="1.6" fill="#1020e8"/>
<rect x="102.3" y="228.4" width="1.6" height="1.6" fill="#0c10c8"/>
<rect x="64.5" y="244.9" width="1.6" height="1.6" fill="#2038e0"/>
<rect x="97.1" y="235.1" width="1.6" height="1.6" fill="#0c10c8"/>
<rect x="69.4" y="248.6" width="1.6" height="1.6" fill="#0818d0"/>
<rect x="69.4" y="257.4" width="1.6" height="1.6" fill="#0a14e0"/>
<rect x="48.3" y="219.7" width="1.6" height="1.6" fill="#1020e8"/>
<rect x="66.3" y="242.0" width="1.6" height="1.6" fill="#1020e8"/>
<rect x="65.2" y="247.5" width="1.6" height="1.6" fill="#0c10c8"/>
<rect x="105.6" y="221.7" width="1.6" height="1.6" fill="#1020e8"/>
<rect x="60.1" y="235.7" width="1.6" height="1.6" fill="#0818d0"/>
<rect x="67.6" y="255.9" width="1.6" height="1.6" fill="#2038e0"/>
<rect x="54.0" y="231.8" width="1.6" height="1.6" fill="#0818d0"/>
<rect x="70.4" y="246.6" width="1.6" height="1.6" fill="#0818d0"/>
<rect x="61.9" y="239.6" width="1.6" height="1.6" fill="#0a14e0"/>
<rect x="89.0" y="238.0" width="1.6" height="1.6" fill="#2038e0"/>
<rect x="46.6" y="221.2" width="1.6" height="1.6" fill="#0818d0"/>
<rect x="103.4" y="222.2" width="1.6" height="1.6" fill="#0c10c8"/>
<rect x="95.4" y="236.5" width="1.6" height="1.6" fill="#2038e0"/>
<rect x="72.6" y="249.7" width="1.6" height="1.6" fill="#0818d0"/>
<rect x="51.7" y="227.5" width="1.6" height="1.6" fill="#0a14e0"/>
<rect x="60.4" y="248.1" width="1.6" height="1.6" fill="#1020e8"/>
<rect x="93.3" y="233.4" width="1.6" height="1.6" fill="#0818d0"/>
<rect x="87.1" y="247.2" width="1.6" height="1.6" fill="#0a14e0"/>
<rect x="91.4" y="249.5" width="1.6" height="1.6" fill="#1020e8"/>
<rect x="46.4" y="221.2" width="1.6" height="1.6" fill="#0c10c8"/>
<rect x="83.2" y="240.2" width="1.6" height="1.6" fill="#0818d0"/>
<rect x="67.4" y="244.7" width="1.6" height="1.6" fill="#2038e0"/>
<rect x="48.6" y="225.2" width="1.6" height="1.6" fill="#0818d0"/>
<rect x="92.3" y="234.5" width="1.6" height="1.6" fill="#0818d0"/>
<rect x="94.9" y="243.7" width="1.6" height="1.6" fill="#0818d0"/>
<rect x="48.8" y="224.1" width="1.6" height="1.6" fill="#0c10c8"/>
<rect x="48.7" y="220.4" width="1.6" height="1.6" fill="#1020e8"/>
<rect x="63.0" y="240.8" width="1.6" height="1.6" fill="#0818d0"/>
<rect x="52.9" y="228.2" width="1.6" height="1.6" fill="#1830e0"/>
<rect x="63.1" y="257.2" width="1.6" height="1.6" fill="#0a14e0"/>
<rect x="100.3" y="224.4" width="1.6" height="1.6" fill="#0818d0"/>
<rect x="66.8" y="241.6" width="1.6" height="1.6" fill="#0a14e0"/>
<rect x="99.4" y="227.7" width="1.6" height="1.6" fill="#0818d0"/>
<rect x="93.5" y="241.2" width="1.6" height="1.6" fill="#0818d0"/>
<rect x="100.5" y="221.8" width="1.6" height="1.6" fill="#0c10c8"/>
<rect x="90.9" y="235.7" width="1.6" height="1.6" fill="#1020e8"/>
<rect x="92.1" y="237.1" width="1.6" height="1.6" fill="#1830e0"/>
<rect x="86.3" y="249.8" width="1.6" height="1.6" fill="#1020e8"/>
<rect x="84.2" y="252.6" width="1.6" height="1.6" fill="#0c10c8"/>
<rect x="70.5" y="252.9" width="1.6" height="1.6" fill="#1020e8"/>
<rect x="54.5" y="229.6" width="1.6" height="1.6" fill="#0c10c8"/>
<rect x="105.0" y="219.1" width="1.6" height="1.6" fill="#0a14e0"/>
<rect x="55.2" y="235.4" width="1.6" height="1.6" fill="#0c10c8"/>
<rect x="101.2" y="221.8" width="1.6" height="1.6" fill="#2038e0"/>
<rect x="57.6" y="239.5" width="1.6" height="1.6" fill="#1020e8"/>
<rect x="58.0" y="232.6" width="1.6" height="1.6" fill="#0c10c8"/>
<rect x="91.6" y="245.8" width="1.6" height="1.6" fill="#2038e0"/>
<rect x="101.5" y="229.7" width="1.6" height="1.6" fill="#2038e0"/>
<rect x="74.3" y="256.4" width="1.6" height="1.6" fill="#0c10c8"/>
<rect x="94.4" y="236.0" width="1.6" height="1.6" fill="#2038e0"/>
<rect x="85.3" y="245.7" width="1.6" height="1.6" fill="#0818d0"/>
<rect x="88.8" y="236.7" width="1.6" height="1.6" fill="#0818d0"/>
<rect x="49.1" y="220.7" width="1.6" height="1.6" fill="#0a14e0"/>
<rect x="63.0" y="256.8" width="1.6" height="1.6" fill="#1830e0"/>
<rect x="57.0" y="231.1" width="1.6" height="1.6" fill="#0818d0"/>
<rect x="96.3" y="226.7" width="1.6" height="1.6" fill="#2038e0"/>
<rect x="63.2" y="242.7" width="1.6" height="1.6" fill="#0c10c8"/>
<rect x="87.2" y="243.7" width="1.6" height="1.6" fill="#1020e8"/>
<rect x="85.1" y="250.5" width="1.6" height="1.6" fill="#1830e0"/>
<rect x="58.9" y="231.4" width="1.6" height="1.6" fill="#1830e0"/>
<rect x="56.9" y="234.5" width="1.6" height="1.6" fill="#2038e0"/>
<rect x="77.9" y="247.7" width="1.6" height="1.6" fill="#0818d0"/>
<rect x="85.9" y="250.4" width="1.6" height="1.6" fill="#0818d0"/>
<rect x="64.8" y="239.2" width="1.6" height="1.6" fill="#2038e0"/>
<rect x="88.5" y="250.0" width="1.6" height="1.6" fill="#1020e8"/>
<rect x="81.2" y="242.8" width="1.6" height="1.6" fill="#2038e0"/>
<rect x="51.7" y="233.9" width="1.6" height="1.6" fill="#0c10c8"/>
<rect x="68.2" y="240.0" width="1.6" height="1.6" fill="#0818d0"/>
<rect x="93.6" y="229.4" width="1.6" height="1.6" fill="#0c10c8"/>
<rect x="64.8" y="238.6" width="1.6" height="1.6" fill="#2038e0"/>
<rect x="95.9" y="237.9" width="1.6" height="1.6" fill="#0818d0"/>
<rect x="66.1" y="251.6" width="1.6" height="1.6" fill="#1020e8"/>
<rect x="83.4" y="242.7" width="1.6" height="1.6" fill="#0a14e0"/>
<rect x="66.7" y="257.4" width="1.6" height="1.6" fill="#0c10c8"/>
<rect x="78.1" y="245.8" width="1.6" height="1.6" fill="#0a14e0"/>
<rect x="95.4" y="239.9" width="1.6" height="1.6" fill="#0c10c8"/>
<rect x="62.1" y="246.4" width="1.6" height="1.6" fill="#2038e0"/>
<rect x="96.2" y="226.8" width="1.6" height="1.6" fill="#2038e0"/>
<rect x="63.3" y="243.2" width="1.6" height="1.6" fill="#0a14e0"/>
<rect x="73.4" y="250.5" width="1.6" height="1.6" fill="#0818d0"/>
<rect x="54.8" y="234.5" width="1.6" height="1.6" fill="#0a14e0"/>
<rect x="64.8" y="250.5" width="1.6" height="1.6" fill="#0a14e0"/>
<rect x="81.7" y="250.1" width="1.6" height="1.6" fill="#0c10c8"/>
<rect x="87.3" y="244.1" width="1.6" height="1.6" fill="#0a14e0"/>
<rect x="97.8" y="231.2" width="1.6" height="1.6" fill="#1020e8"/>
<rect x="64.1" y="256.1" width="1.6" height="1.6" fill="#0818d0"/>
<rect x="90.0" y="238.2" width="1.6" height="1.6" fill="#0818d0"/>
<rect x="81.3" y="247.3" width="1.6" height="1.6" fill="#0818d0"/>
<rect x="75.6" y="252.6" width="1.6" height="1.6" fill="#1020e8"/>
<rect x="77.1" y="248.0" width="1.6" height="1.6" fill="#0a14e0"/>
<rect x="98.5" y="225.4" width="1.6" height="1.6" fill="#2038e0"/>
<rect x="103.8" y="220.9" width="1.6" height="1.6" fill="#2038e0"/>
<rect x="95.3" y="235.9" width="1.6" height="1.6" fill="#0a14e0"/>
<rect x="46.8" y="220.8" width="1.6" height="1.6" fill="#1020e8"/>
<rect x="100.4" y="224.1" width="1.6" height="1.6" fill="#0a14e0"/>
<rect x="47.1" y="221.0" width="1.6" height="1.6" fill="#1830e0"/>
<rect x="88.8" y="251.8" width="1.6" height="1.6" fill="#0c10c8"/>
<rect x="71.9" y="246.3" width="1.6" height="1.6" fill="#1020e8"/>
<rect x="88.7" y="238.2" width="1.6" height="1.6" fill="#2038e0"/>
<rect x="81.1" y="255.7" width="1.6" height="1.6" fill="#0c10c8"/>
<rect x="85.9" y="238.3" width="1.6" height="1.6" fill="#0c10c8"/>
<rect x="77.2" y="250.9" width="1.6" height="1.6" fill="#0a14e0"/>
<rect x="49.4" y="222.2" width="1.6" height="1.6" fill="#1830e0"/>
<rect x="61.5" y="253.1" width="1.6" height="1.6" fill="#0c10c8"/>
<rect x="106.1" y="221.1" width="1.6" height="1.6" fill="#2038e0"/>
<rect x="84.5" y="252.2" width="1.6" height="1.6" fill="#1020e8"/>
<rect x="54.3" y="231.5" width="1.6" height="1.6" fill="#0a14e0"/>
<rect x="93.7" y="232.1" width="1.6" height="1.6" fill="#0c10c8"/>
<rect x="80.4" y="250.1" width="1.6" height="1.6" fill="#2038e0"/>
<rect x="55.2" y="234.0" width="1.6" height="1.6" fill="#0818d0"/>
<rect x="71.3" y="254.0" width="1.6" height="1.6" fill="#0c10c8"/>
<rect x="58.9" y="231.8" width="1.6" height="1.6" fill="#1830e0"/>
<rect x="63.7" y="240.9" width="1.6" height="1.6" fill="#1020e8"/>
<rect x="54.7" y="236.3" width="1.6" height="1.6" fill="#2038e0"/>
<rect x="53.0" y="224.3" width="1.6" height="1.6" fill="#0a14e0"/>
<rect x="52.8" y="228.8" width="1.6" height="1.6" fill="#1830e0"/>
<rect x="92.0" y="234.8" width="1.6" height="1.6" fill="#1020e8"/>
<rect x="78.7" y="256.0" width="1.6" height="1.6" fill="#1830e0"/>
<rect x="82.4" y="250.3" width="1.6" height="1.6" fill="#1020e8"/>
<rect x="57.5" y="238.5" width="1.6" height="1.6" fill="#0a14e0"/>
<rect x="54.2" y="231.8" width="1.6" height="1.6" fill="#2038e0"/>
<rect x="56.8" y="240.0" width="1.6" height="1.6" fill="#1830e0"/>
<rect x="66.8" y="241.4" width="1.6" height="1.6" fill="#0a14e0"/>
<rect x="89.0" y="236.6" width="1.6" height="1.6" fill="#0c10c8"/>
<rect x="64.4" y="237.4" width="1.6" height="1.6" fill="#0c10c8"/>
<rect x="68.7" y="242.2" width="1.6" height="1.6" fill="#0a14e0"/>
<rect x="81.4" y="246.8" width="1.6" height="1.6" fill="#1020e8"/>
<rect x="60.3" y="235.2" width="1.6" height="1.6" fill="#0818d0"/>
<rect x="56.8" y="234.8" width="1.6" height="1.6" fill="#0818d0"/>
<rect x="58.1" y="233.5" width="1.6" height="1.6" fill="#0818d0"/>
<rect x="46.5" y="222.3" width="1.6" height="1.6" fill="#1020e8"/>
<rect x="57.5" y="246.4" width="1.6" height="1.6" fill="#2038e0"/>
<rect x="98.6" y="223.8" width="1.6" height="1.6" fill="#0818d0"/>
<rect x="70.8" y="247.0" width="1.6" height="1.6" fill="#1020e8"/>
<rect x="64.6" y="239.4" width="1.6" height="1.6" fill="#0c10c8"/>
<rect x="69.3" y="251.3" width="1.6" height="1.6" fill="#1020e8"/>
<rect x="59.0" y="238.4" width="1.6" height="1.6" fill="#1830e0"/>
<rect x="53.4" y="231.7" width="1.6" height="1.6" fill="#0a14e0"/>
<rect x="88.0" y="241.1" width="1.6" height="1.6" fill="#0c10c8"/>
<rect x="80.8" y="244.5" width="1.6" height="1.6" fill="#1830e0"/>
<rect x="60.4" y="241.5" width="1.6" height="1.6" fill="#0c10c8"/>
<rect x="92.5" y="236.9" width="1.6" height="1.6" fill="#2038e0"/>
<rect x="99.3" y="222.3" width="1.6" height="1.6" fill="#0c10c8"/>
<rect x="52.5" y="227.4" width="1.6" height="1.6" fill="#0c10c8"/>
<rect x="105.4" y="219.3" width="1.6" height="1.6" fill="#0c10c8"/>
<rect x="86.8" y="245.7" width="1.6" height="1.6" fill="#0818d0"/>
<rect x="68.7" y="250.9" width="1.6" height="1.6" fill="#1020e8"/>
<rect x="63.6" y="250.7" width="1.6" height="1.6" fill="#0a14e0"/>
<rect x="77.5" y="246.9" width="1.6" height="1.6" fill="#0c10c8"/>
<rect x="55.1" y="227.4" width="1.6" height="1.6" fill="#1020e8"/>
<rect x="48.2" y="220.4" width="1.6" height="1.6" fill="#0a14e0"/>
<rect x="98.7" y="228.8" width="1.6" height="1.6" fill="#0a14e0"/>
<rect x="94.1" y="232.1" width="1.6" height="1.6" fill="#0a14e0"/>
<rect x="89.0" y="247.9" width="1.6" height="1.6" fill="#0818d0"/>
<rect x="94.4" y="238.7" width="1.6" height="1.6" fill="#0818d0"/>
<rect x="58.5" y="240.7" width="1.6" height="1.6" fill="#0a14e0"/>
<rect x="70.3" y="256.4" width="1.6" height="1.6" fill="#1830e0"/>
<rect x="106.2" y="218.7" width="1.6" height="1.6" fill="#0a14e0"/>
<rect x="51.5" y="228.2" width="1.6" height="1.6" fill="#1020e8"/>
<rect x="74.3" y="254.1" width="1.6" height="1.6" fill="#1020e8"/>
<rect x="96.7" y="233.9" width="1.6" height="1.6" fill="#2038e0"/>
<rect x="68.4" y="253.8" width="1.6" height="1.6" fill="#0c10c8"/>
<rect x="53.2" y="237.1" width="1.6" height="1.6" fill="#0c10c8"/>
<rect x="59.7" y="237.6" width="1.6" height="1.6" fill="#0c10c8"/>
<rect x="61.2" y="240.4" width="1.6" height="1.6" fill="#2038e0"/>
<rect x="60.3" y="250.4" width="1.6" height="1.6" fill="#0a14e0"/>
<rect x="63.4" y="245.7" width="1.6" height="1.6" fill="#0a14e0"/>
<rect x="98.5" y="233.3" width="1.6" height="1.6" fill="#0818d0"/>
<rect x="68.8" y="251.1" width="1.6" height="1.6" fill="#0a14e0"/>
<rect x="89.6" y="236.2" width="1.6" height="1.6" fill="#1020e8"/>
<rect x="51.4" y="230.8" width="1.6" height="1.6" fill="#1830e0"/>
<rect x="63.4" y="239.5" width="1.6" height="1.6" fill="#1020e8"/>
<rect x="104.3" y="224.0" width="1.6" height="1.6" fill="#1830e0"/>
<rect x="106.0" y="219.8" width="1.6" height="1.6" fill="#0818d0"/>
<rect x="58.2" y="241.7" width="1.6" height="1.6" fill="#0818d0"/>
<rect x="95.0" y="232.5" width="1.6" height="1.6" fill="#1020e8"/>
<rect x="61.5" y="235.4" width="1.6" height="1.6" fill="#0818d0"/>
<rect x="65.0" y="252.2" width="1.6" height="1.6" fill="#1830e0"/>
<rect x="55.1" y="231.4" width="1.6" height="1.6" fill="#0a14e0"/>
<rect x="71.0" y="247.4" width="1.6" height="1.6" fill="#1020e8"/>
<rect x="64.1" y="258.3" width="1.6" height="1.6" fill="#0818d0"/>
<rect x="57.7" y="232.4" width="1.6" height="1.6" fill="#0a14e0"/>
<rect x="64.2" y="258.3" width="1.6" height="1.6" fill="#0c10c8"/>
<rect x="67.7" y="250.0" width="1.6" height="1.6" fill="#0818d0"/>
<rect x="83.5" y="240.6" width="1.6" height="1.6" fill="#0c10c8"/>
<rect x="70.3" y="250.5" width="1.6" height="1.6" fill="#2038e0"/>
<rect x="80.0" y="250.8" width="1.6" height="1.6" fill="#0818d0"/>
<rect x="72.0" y="256.3" width="1.6" height="1.6" fill="#0c10c8"/>
<rect x="90.4" y="251.4" width="1.6" height="1.6" fill="#2038e0"/>
<rect x="56.2" y="228.9" width="1.6" height="1.6" fill="#0818d0"/>
<rect x="94.1" y="229.8" width="1.6" height="1.6" fill="#1830e0"/>
<rect x="51.3" y="232.0" width="1.6" height="1.6" fill="#2038e0"/>
<rect x="89.7" y="240.7" width="1.6" height="1.6" fill="#1020e8"/>
<rect x="63.8" y="248.7" width="1.6" height="1.6" fill="#1830e0"/>
<rect x="87.7" y="247.9" width="1.6" height="1.6" fill="#1020e8"/>
<rect x="73.3" y="256.3" width="1.6" height="1.6" fill="#1020e8"/>
<rect x="82.3" y="256.8" width="1.6" height="1.6" fill="#1020e8"/>
<rect x="87.5" y="240.6" width="1.6" height="1.6" fill="#1020e8"/>
<rect x="69.6" y="247.2" width="1.6" height="1.6" fill="#0818d0"/>
<rect x="95.6" y="234.1" width="1.6" height="1.6" fill="#1830e0"/>
<rect x="88.2" y="239.5" width="1.6" height="1.6" fill="#1830e0"/>
<rect x="98.9" y="230.8" width="1.6" height="1.6" fill="#1020e8"/>
<rect x="68.3" y="247.0" width="1.6" height="1.6" fill="#0818d0"/>
<rect x="62.4" y="239.2" width="1.6" height="1.6" fill="#1020e8"/>
<rect x="59.8" y="247.8" width="1.6" height="1.6" fill="#1020e8"/>
<rect x="49.5" y="227.3" width="1.6" height="1.6" fill="#2038e0"/>
<rect x="103.7" y="222.2" width="1.6" height="1.6" fill="#2038e0"/>
<rect x="66.7" y="250.9" width="1.6" height="1.6" fill="#0c10c8"/>
<rect x="69.2" y="257.5" width="1.6" height="1.6" fill="#0818d0"/>
<rect x="57.1" y="235.1" width="1.6" height="1.6" fill="#0c10c8"/>
<rect x="90.6" y="244.0" width="1.6" height="1.6" fill="#0c10c8"/>
<rect x="59.9" y="247.1" width="1.6" height="1.6" fill="#0c10c8"/>
<rect x="51.4" y="232.4" width="1.6" height="1.6" fill="#0818d0"/>
<rect x="77.7" y="253.7" width="1.6" height="1.6" fill="#0c10c8"/>
<rect x="62.9" y="247.6" width="1.6" height="1.6" fill="#0a14e0"/>
<rect x="52.1" y="226.0" width="1.6" height="1.6" fill="#1020e8"/>
<rect x="92.9" y="230.7" width="1.6" height="1.6" fill="#0818d0"/>
<rect x="57.6" y="237.0" width="1.6" height="1.6" fill="#1020e8"/>
<rect x="97.5" y="226.0" width="1.6" height="1.6" fill="#0a14e0"/>
<rect x="88.8" y="234.9" width="1.6" height="1.6" fill="#0818d0"/>
<rect x="48.8" y="228.6" width="1.6" height="1.6" fill="#0c10c8"/>
<rect x="64.6" y="255.6" width="1.6" height="1.6" fill="#0818d0"/>
<rect x="60.2" y="241.3" width="1.6" height="1.6" fill="#2038e0"/>
<rect x="66.5" y="239.1" width="1.6" height="1.6" fill="#2038e0"/>
<rect x="96.5" y="233.1" width="1.6" height="1.6" fill="#1020e8"/>
<rect x="69.1" y="246.1" width="1.6" height="1.6" fill="#2038e0"/>
<rect x="63.7" y="252.3" width="1.6" height="1.6" fill="#0a14e0"/>
<rect x="74.6" y="256.7" width="1.6" height="1.6" fill="#1020e8"/>
<rect x="81.6" y="249.9" width="1.6" height="1.6" fill="#0c10c8"/>
<rect x="81.0" y="248.5" width="1.6" height="1.6" fill="#0a14e0"/>
<rect x="91.4" y="235.6" width="1.6" height="1.6" fill="#0a14e0"/>
<rect x="60.9" y="251.0" width="1.6" height="1.6" fill="#2038e0"/>
<rect x="96.3" y="238.0" width="1.6" height="1.6" fill="#0c10c8"/>
<rect x="93.6" y="241.7" width="1.6" height="1.6" fill="#1020e8"/>
<rect x="91.3" y="244.7" width="1.6" height="1.6" fill="#1830e0"/>
<rect x="67.7" y="241.0" width="1.6" height="1.6" fill="#1020e8"/>
<rect x="64.1" y="238.1" width="1.6" height="1.6" fill="#0a14e0"/>
<rect x="78.4" y="246.4" width="1.6" height="1.6" fill="#1830e0"/>
<rect x="102.0" y="224.5" width="1.6" height="1.6" fill="#0c10c8"/>
<rect x="96.8" y="231.5" width="1.6" height="1.6" fill="#1020e8"/>
<rect x="54.4" y="230.2" width="1.6" height="1.6" fill="#0818d0"/>
<rect x="63.5" y="263" width="1.4" height="1.4" fill="#1428d8"/>
<rect x="66.5" y="262" width="1.4" height="1.4" fill="#1428d8"/>
<rect x="68" y="263.5" width="1.4" height="1.4" fill="#1428d8"/>
<rect x="65" y="260" width="1.4" height="1.4" fill="#1428d8"/>
<rect x="75.4" y="266" width="1.4" height="1.4" fill="#2050c0"/>
<rect x="77" y="269.5" width="1.4" height="1.4" fill="#209090"/>
<rect x="76" y="275" width="1.4" height="1.4" fill="#e02020"/>
</g>
<g id="p2">
<rect x="235.6" y="232.3" width="1.6" height="1.6" fill="#0c10c8"/>
<rect x="213.3" y="260.2" width="1.6" height="1.6" fill="#40e040"/>
<rect x="194.3" y="239.1" width="1.6" height="1.6" fill="#0c10c8"/>
<rect x="224.4" y="261.5" width="1.6" height="1.6" fill="#0a14e0"/>
<rect x="202.8" y="266.1" width="1.6" height="1.6" fill="#206060"/>
<rect x="227.4" y="257.2" width="1.6" height="1.6" fill="#208050"/>
<rect x="200.0" y="270.3" width="1.6" height="1.6" fill="#1830e0"/>
<rect x="220.2" y="255.1" width="1.6" height="1.6" fill="#10b040"/>
<rect x="230.9" y="236.5" width="1.6" height="1.6" fill="#0a14e0"/>
<rect x="183.1" y="231.2" width="1.6" height="1.6" fill="#2038e0"/>
<rect x="201.0" y="256.4" width="1.6" height="1.6" fill="#206060"/>
<rect x="196.6" y="267.7" width="1.6" height="1.6" fill="#40e040"/>
<rect x="231.7" y="256.6" width="1.6" height="1.6" fill="#0818d0"/>
<rect x="184.1" y="238.2" width="1.6" height="1.6" fill="#0818d0"/>
<rect x="203.9" y="262.3" width="1.6" height="1.6" fill="#40e040"/>
<rect x="239.2" y="225.7" width="1.6" height="1.6" fill="#306070"/>
<rect x="191.1" y="239.5" width="1.6" height="1.6" fill="#0a14e0"/>
<rect x="223.0" y="264.1" width="1.6" height="1.6" fill="#30c030"/>
<rect x="220.0" y="257.0" width="1.6" height="1.6" fill="#1020e8"/>
<rect x="187.4" y="245.8" width="1.6" height="1.6" fill="#1830e0"/>
<rect x="185.5" y="228.3" width="1.6" height="1.6" fill="#0818d0"/>
<rect x="229.0" y="243.3" width="1.6" height="1.6" fill="#208050"/>
<rect x="222.6" y="255.9" width="1.6" height="1.6" fill="#208050"/>
<rect x="185.7" y="245.5" width="1.6" height="1.6" fill="#1020e8"/>
<rect x="233.8" y="244.7" width="1.6" height="1.6" fill="#0c10c8"/>
<rect x="217.9" y="256.7" width="1.6" height="1.6" fill="#1020e8"/>
<rect x="201.7" y="273.5" width="1.6" height="1.6" fill="#20d020"/>
<rect x="196.4" y="248.2" width="1.6" height="1.6" fill="#306070"/>
<rect x="211.6" y="254.3" width="1.6" height="1.6" fill="#306070"/>
<rect x="233.5" y="234.7" width="1.6" height="1.6" fill="#1020e8"/>
<rect x="197.7" y="273.5" width="1.6" height="1.6" fill="#0c10c8"/>
<rect x="186.3" y="248.2" width="1.6" height="1.6" fill="#2038e0"/>
<rect x="236.8" y="233.4" width="1.6" height="1.6" fill="#205080"/>
<rect x="189.3" y="257.3" width="1.6" height="1.6" fill="#10b040"/>
<rect x="217.1" y="251.9" width="1.6" height="1.6" fill="#0a14e0"/>
<rect x="233.4" y="236.8" width="1.6" height="1.6" fill="#0c10c8"/>
<rect x="233.5" y="245.0" width="1.6" height="1.6" fill="#0a14e0"/>
<rect x="188.6" y="261.5" width="1.6" height="1.6" fill="#206060"/>
<rect x="213.6" y="252.7" width="1.6" height="1.6" fill="#10b040"/>
<rect x="200.1" y="265.9" width="1.6" height="1.6" fill="#0a14e0"/>
<rect x="206.2" y="268.7" width="1.6" height="1.6" fill="#40e040"/>
<rect x="204.8" y="249.4" width="1.6" height="1.6" fill="#40e040"/>
<rect x="221.8" y="260.0" width="1.6" height="1.6" fill="#1830e0"/>
<rect x="188.2" y="228.8" width="1.6" height="1.6" fill="#0a14e0"/>
<rect x="220.1" y="263.8" width="1.6" height="1.6" fill="#0a14e0"/>
<rect x="197.2" y="262.1" width="1.6" height="1.6" fill="#40e040"/>
<rect x="240.3" y="219.9" width="1.6" height="1.6" fill="#0a14e0"/>
<rect x="192.8" y="235.1" width="1.6" height="1.6" fill="#2038e0"/>
<rect x="231.1" y="234.9" width="1.6" height="1.6" fill="#0c10c8"/>
<rect x="219.8" y="255.9" width="1.6" height="1.6" fill="#1830e0"/>
<rect x="236.3" y="221.3" width="1.6" height="1.6" fill="#0818d0"/>
<rect x="200.8" y="274.1" width="1.6" height="1.6" fill="#c04020"/>
<rect x="193.5" y="239.7" width="1.6" height="1.6" fill="#10b040"/>
<rect x="197.1" y="268.5" width="1.6" height="1.6" fill="#303848"/>
<rect x="188.5" y="232.1" width="1.6" height="1.6" fill="#1020e8"/>
<rect x="227.9" y="249.6" width="1.6" height="1.6" fill="#10b040"/>
<rect x="235.1" y="237.0" width="1.6" height="1.6" fill="#206060"/>
<rect x="195.9" y="278.5" width="1.6" height="1.6" fill="#e02020"/>
<rect x="190.1" y="261.1" width="1.6" height="1.6" fill="#2038e0"/>
<rect x="197.0" y="270.8" width="1.6" height="1.6" fill="#208050"/>
<rect x="201.5" y="262.4" width="1.6" height="1.6" fill="#1830e0"/>
<rect x="229.4" y="246.8" width="1.6" height="1.6" fill="#0c10c8"/>
<rect x="225.8" y="265.2" width="1.6" height="1.6" fill="#30c030"/>
<rect x="187.2" y="248.4" width="1.6" height="1.6" fill="#0c10c8"/>
<rect x="189.5" y="248.9" width="1.6" height="1.6" fill="#208050"/>
<rect x="205.4" y="249.1" width="1.6" height="1.6" fill="#206060"/>
<rect x="201.4" y="262.5" width="1.6" height="1.6" fill="#0a14e0"/>
<rect x="232.8" y="246.0" width="1.6" height="1.6" fill="#0818d0"/>
<rect x="195.8" y="266.4" width="1.6" height="1.6" fill="#30c030"/>
<rect x="189.8" y="259.3" width="1.6" height="1.6" fill="#2038e0"/>
<rect x="201.6" y="274.6" width="1.6" height="1.6" fill="#0a14e0"/>
<rect x="183.9" y="235.9" width="1.6" height="1.6" fill="#0a14e0"/>
<rect x="187.9" y="227.1" width="1.6" height="1.6" fill="#306070"/>
<rect x="202.5" y="257.8" width="1.6" height="1.6" fill="#0818d0"/>
<rect x="226.6" y="260.9" width="1.6" height="1.6" fill="#0c10c8"/>
<rect x="232.9" y="253.0" width="1.6" height="1.6" fill="#0a14e0"/>
<rect x="221.1" y="265.9" width="1.6" height="1.6" fill="#1830e0"/>
<rect x="230.3" y="239.7" width="1.6" height="1.6" fill="#0a14e0"/>
<rect x="229.3" y="247.4" width="1.6" height="1.6" fill="#30c030"/>
<rect x="191.8" y="240.3" width="1.6" height="1.6" fill="#0818d0"/>
<rect x="219.9" y="250.5" width="1.6" height="1.6" fill="#0c10c8"/>
<rect x="191.6" y="230.8" width="1.6" height="1.6" fill="#0818d0"/>
<rect x="213.9" y="251.5" width="1.6" height="1.6" fill="#20d020"/>
<rect x="200.7" y="248.8" width="1.6" height="1.6" fill="#40e040"/>
<rect x="234.0" y="230.1" width="1.6" height="1.6" fill="#0818d0"/>
<rect x="186.5" y="230.8" width="1.6" height="1.6" fill="#40e040"/>
<rect x="189.3" y="248.7" width="1.6" height="1.6" fill="#208050"/>
<rect x="230.5" y="252.4" width="1.6" height="1.6" fill="#1830e0"/>
<rect x="199.9" y="271.5" width="1.6" height="1.6" fill="#303848"/>
<rect x="210.7" y="269.6" width="1.6" height="1.6" fill="#10b040"/>
<rect x="219.0" y="253.8" width="1.6" height="1.6" fill="#0c10c8"/>
<rect x="205.1" y="275.6" width="1.6" height="1.6" fill="#1830e0"/>
<rect x="194.2" y="244.9" width="1.6" height="1.6" fill="#306070"/>
<rect x="206.8" y="265.4" width="1.6" height="1.6" fill="#208050"/>
<rect x="183.9" y="221.4" width="1.6" height="1.6" fill="#1020e8"/>
<rect x="191.5" y="262.8" width="1.6" height="1.6" fill="#306070"/>
<rect x="238.0" y="225.1" width="1.6" height="1.6" fill="#0818d0"/>
<rect x="190.3" y="270.8" width="1.6" height="1.6" fill="#208050"/>
<rect x="240.5" y="219.4" width="1.6" height="1.6" fill="#0c10c8"/>
<rect x="192.5" y="240.9" width="1.6" height="1.6" fill="#206060"/>
<rect x="224.9" y="261.8" width="1.6" height="1.6" fill="#303848"/>
<rect x="230.8" y="236.0" width="1.6" height="1.6" fill="#30c030"/>
<rect x="218.9" y="250.0" width="1.6" height="1.6" fill="#1020e8"/>
<rect x="203.7" y="253.8" width="1.6" height="1.6" fill="#0c10c8"/>
<rect x="213.1" y="265.0" width="1.6" height="1.6" fill="#0818d0"/>
<rect x="196.0" y="276.6" width="1.6" height="1.6" fill="#10b040"/>
<rect x="189.9" y="239.9" width="1.6" height="1.6" fill="#303848"/>
<rect x="191.8" y="255.5" width="1.6" height="1.6" fill="#0818d0"/>
<rect x="191.7" y="264.9" width="1.6" height="1.6" fill="#40e040"/>
<rect x="191.7" y="260.6" width="1.6" height="1.6" fill="#30c030"/>
<rect x="186.4" y="232.6" width="1.6" height="1.6" fill="#2038e0"/>
<rect x="219.0" y="269.3" width="1.6" height="1.6" fill="#1020e8"/>
<rect x="201.8" y="271.6" width="1.6" height="1.6" fill="#20d020"/>
<rect x="223.3" y="253.4" width="1.6" height="1.6" fill="#0c10c8"/>
<rect x="194.9" y="242.6" width="1.6" height="1.6" fill="#0c10c8"/>
<rect x="202.5" y="267.2" width="1.6" height="1.6" fill="#1020e8"/>
<rect x="195.3" y="261.7" width="1.6" height="1.6" fill="#2038e0"/>
<rect x="195.1" y="246.8" width="1.6" height="1.6" fill="#1020e8"/>
<rect x="233.0" y="252.2" width="1.6" height="1.6" fill="#303848"/>
<rect x="185.6" y="244.6" width="1.6" height="1.6" fill="#10b040"/>
<rect x="197.1" y="273.2" width="1.6" height="1.6" fill="#a06020"/>
<rect x="225.0" y="250.0" width="1.6" height="1.6" fill="#303848"/>
<rect x="232.1" y="237.5" width="1.6" height="1.6" fill="#0818d0"/>
<rect x="203.8" y="263.6" width="1.6" height="1.6" fill="#208050"/>
<rect x="190.6" y="251.0" width="1.6" height="1.6" fill="#0a14e0"/>
<rect x="211.5" y="265.5" width="1.6" height="1.6" fill="#10b040"/>
<rect x="207.6" y="251.3" width="1.6" height="1.6" fill="#10b040"/>
<rect x="183.7" y="228.3" width="1.6" height="1.6" fill="#1830e0"/>
<rect x="193.1" y="245.3" width="1.6" height="1.6" fill="#1020e8"/>
<rect x="196.7" y="242.7" width="1.6" height="1.6" fill="#0a14e0"/>
<rect x="232.5" y="251.4" width="1.6" height="1.6" fill="#205080"/>
<rect x="218.9" y="260.0" width="1.6" height="1.6" fill="#2038e0"/>
<rect x="209.0" y="254.1" width="1.6" height="1.6" fill="#0818d0"/>
<rect x="199.2" y="255.5" width="1.6" height="1.6" fill="#208050"/>
<rect x="202.0" y="256.1" width="1.6" height="1.6" fill="#30c030"/>
<rect x="194.9" y="239.0" width="1.6" height="1.6" fill="#1020e8"/>
<rect x="195.3" y="247.6" width="1.6" height="1.6" fill="#10b040"/>
<rect x="213.8" y="260.2" width="1.6" height="1.6" fill="#0a14e0"/>
<rect x="189.1" y="260.5" width="1.6" height="1.6" fill="#0c10c8"/>
<rect x="233.9" y="231.3" width="1.6" height="1.6" fill="#0a14e0"/>
<rect x="184.7" y="228.3" width="1.6" height="1.6" fill="#208050"/>
<rect x="201.0" y="254.0" width="1.6" height="1.6" fill="#0818d0"/>
<rect x="237.8" y="223.5" width="1.6" height="1.6" fill="#303848"/>
<rect x="227.6" y="258.4" width="1.6" height="1.6" fill="#30c030"/>
<rect x="233.9" y="239.0" width="1.6" height="1.6" fill="#2038e0"/>
<rect x="199.6" y="247.5" width="1.6" height="1.6" fill="#30c030"/>
<rect x="235.1" y="248.4" width="1.6" height="1.6" fill="#10b040"/>
<rect x="225.1" y="255.9" width="1.6" height="1.6" fill="#303848"/>
<rect x="217.9" y="268.5" width="1.6" height="1.6" fill="#1020e8"/>
<rect x="191.7" y="236.1" width="1.6" height="1.6" fill="#208050"/>
<rect x="186.6" y="229.5" width="1.6" height="1.6" fill="#0818d0"/>
<rect x="208.3" y="266.9" width="1.6" height="1.6" fill="#208050"/>
<rect x="222.9" y="249.5" width="1.6" height="1.6" fill="#30c030"/>
<rect x="201.2" y="246.8" width="1.6" height="1.6" fill="#208050"/>
<rect x="230.5" y="257.4" width="1.6" height="1.6" fill="#306070"/>
<rect x="184.1" y="234.9" width="1.6" height="1.6" fill="#0c10c8"/>
<rect x="184.6" y="225.2" width="1.6" height="1.6" fill="#0c10c8"/>
<rect x="198.7" y="254.6" width="1.6" height="1.6" fill="#30c030"/>
<rect x="188.9" y="234.3" width="1.6" height="1.6" fill="#0818d0"/>
<rect x="200.4" y="253.7" width="1.6" height="1.6" fill="#0818d0"/>
<rect x="192.4" y="240.5" width="1.6" height="1.6" fill="#30c030"/>
<rect x="190.3" y="250.9" width="1.6" height="1.6" fill="#2038e0"/>
<rect x="227.8" y="257.2" width="1.6" height="1.6" fill="#40e040"/>
<rect x="224.1" y="254.4" width="1.6" height="1.6" fill="#0818d0"/>
<rect x="189.7" y="232.8" width="1.6" height="1.6" fill="#20d020"/>
<rect x="191.6" y="250.6" width="1.6" height="1.6" fill="#2038e0"/>
<rect x="208.9" y="257.0" width="1.6" height="1.6" fill="#0c10c8"/>
<rect x="211.2" y="257.6" width="1.6" height="1.6" fill="#40e040"/>
<rect x="187.8" y="229.2" width="1.6" height="1.6" fill="#0a14e0"/>
<rect x="217.5" y="259.3" width="1.6" height="1.6" fill="#303848"/>
<rect x="196.8" y="249.8" width="1.6" height="1.6" fill="#205080"/>
<rect x="195.6" y="240.9" width="1.6" height="1.6" fill="#205080"/>
<rect x="232.8" y="244.4" width="1.6" height="1.6" fill="#0c10c8"/>
<rect x="189.8" y="230.2" width="1.6" height="1.6" fill="#206060"/>
<rect x="187.3" y="246.4" width="1.6" height="1.6" fill="#40e040"/>
<rect x="230.2" y="239.9" width="1.6" height="1.6" fill="#2038e0"/>
<rect x="196.3" y="269.1" width="1.6" height="1.6" fill="#0c10c8"/>
<rect x="229.8" y="252.7" width="1.6" height="1.6" fill="#306070"/>
<rect x="201.2" y="256.1" width="1.6" height="1.6" fill="#20d020"/>
<rect x="195.5" y="265.5" width="1.6" height="1.6" fill="#30c030"/>
<rect x="186.8" y="221.4" width="1.6" height="1.6" fill="#303848"/>
<rect x="223.6" y="267.1" width="1.6" height="1.6" fill="#0818d0"/>
<rect x="213.8" y="256.0" width="1.6" height="1.6" fill="#0818d0"/>
<rect x="211.8" y="255.3" width="1.6" height="1.6" fill="#2038e0"/>
<rect x="215.7" y="252.9" width="1.6" height="1.6" fill="#2038e0"/>
<rect x="211.8" y="269.5" width="1.6" height="1.6" fill="#20d020"/>
<rect x="202.9" y="275.8" width="1.6" height="1.6" fill="#20d020"/>
<rect x="197.4" y="272.0" width="1.6" height="1.6" fill="#40e040"/>
<rect x="236.8" y="224.3" width="1.6" height="1.6" fill="#0a14e0"/>
<rect x="188.7" y="255.3" width="1.6" height="1.6" fill="#1830e0"/>
<rect x="211.3" y="255.7" width="1.6" height="1.6" fill="#206060"/>
<rect x="188.6" y="251.9" width="1.6" height="1.6" fill="#0a14e0"/>
<rect x="227.1" y="256.8" width="1.6" height="1.6" fill="#1020e8"/>
<rect x="202.8" y="259.4" width="1.6" height="1.6" fill="#303848"/>
<rect x="200.5" y="251.2" width="1.6" height="1.6" fill="#1830e0"/>
<rect x="230.2" y="261.2" width="1.6" height="1.6" fill="#0c10c8"/>
<rect x="200.9" y="249.3" width="1.6" height="1.6" fill="#0818d0"/>
<rect x="230.1" y="258.1" width="1.6" height="1.6" fill="#1830e0"/>
<rect x="233.9" y="239.3" width="1.6" height="1.6" fill="#1830e0"/>
<rect x="212.5" y="261.2" width="1.6" height="1.6" fill="#0a14e0"/>
<rect x="184.7" y="224.8" width="1.6" height="1.6" fill="#20d020"/>
<rect x="231.0" y="248.2" width="1.6" height="1.6" fill="#306070"/>
<rect x="206.2" y="274.7" width="1.6" height="1.6" fill="#c04020"/>
<rect x="219.3" y="252.7" width="1.6" height="1.6" fill="#208050"/>
<rect x="199.6" y="269.5" width="1.6" height="1.6" fill="#0a14e0"/>
<rect x="191.8" y="274.0" width="1.6" height="1.6" fill="#0818d0"/>
<rect x="236.2" y="243.7" width="1.6" height="1.6" fill="#10b040"/>
<rect x="189.5" y="240.3" width="1.6" height="1.6" fill="#208050"/>
<rect x="199.4" y="252.9" width="1.6" height="1.6" fill="#208050"/>
<rect x="201.1" y="272.1" width="1.6" height="1.6" fill="#40e040"/>
<rect x="187.5" y="244.2" width="1.6" height="1.6" fill="#0818d0"/>
<rect x="199.8" y="268.4" width="1.6" height="1.6" fill="#1830e0"/>
<rect x="202.9" y="271.4" width="1.6" height="1.6" fill="#10b040"/>
<rect x="191.3" y="267.3" width="1.6" height="1.6" fill="#40e040"/>
<rect x="185.2" y="224.0" width="1.6" height="1.6" fill="#1020e8"/>
<rect x="206.3" y="259.2" width="1.6" height="1.6" fill="#40e040"/>
<rect x="228.1" y="260.1" width="1.6" height="1.6" fill="#1830e0"/>
<rect x="196.2" y="273.7" width="1.6" height="1.6" fill="#c04020"/>
<rect x="228.2" y="259.1" width="1.6" height="1.6" fill="#1830e0"/>
<rect x="209.7" y="264.3" width="1.6" height="1.6" fill="#206060"/>
<rect x="233.4" y="238.3" width="1.6" height="1.6" fill="#1020e8"/>
<rect x="225.5" y="252.9" width="1.6" height="1.6" fill="#1020e8"/>
<rect x="203.2" y="258.8" width="1.6" height="1.6" fill="#40e040"/>
<rect x="222.4" y="256.5" width="1.6" height="1.6" fill="#0c10c8"/>
<rect x="220.0" y="259.3" width="1.6" height="1.6" fill="#10b040"/>
<rect x="196.2" y="239.7" width="1.6" height="1.6" fill="#40e040"/>
<rect x="216.8" y="269.2" width="1.6" height="1.6" fill="#40e040"/>
<rect x="189.2" y="240.8" width="1.6" height="1.6" fill="#30c030"/>
<rect x="185.4" y="251.8" width="1.6" height="1.6" fill="#30c030"/>
<rect x="191.6" y="231.3" width="1.6" height="1.6" fill="#1020e8"/>
<rect x="234.8" y="236.9" width="1.6" height="1.6" fill="#0a14e0"/>
<rect x="208.4" y="254.2" width="1.6" height="1.6" fill="#40e040"/>
<rect x="222.7" y="264.7" width="1.6" height="1.6" fill="#0818d0"/>
<rect x="201.4" y="262.3" width="1.6" height="1.6" fill="#1020e8"/>
<rect x="198.3" y="262.6" width="1.6" height="1.6" fill="#10b040"/>
<rect x="196" y="277" width="1.4" height="1.4" fill="#e02020"/>
<rect x="198.5" y="279" width="1.4" height="1.4" fill="#e02020"/>
<rect x="203" y="277.5" width="1.4" height="1.4" fill="#d04020"/>
<rect x="206" y="275" width="1.4" height="1.4" fill="#c05020"/>
<rect x="212" y="255" width="1.4" height="1.4" fill="#e02020"/>
<rect x="190" y="276.5" width="1.4" height="1.4" fill="#20c020"/>
<rect x="193" y="276.5" width="1.4" height="1.4" fill="#205080"/>
</g>
<g id="p3" stroke-width="0.75" stroke-linecap="butt">
<line x1="106.2" y1="348.4" x2="104.9" y2="350.4" stroke="#4860f0"/>
<line x1="65.5" y1="357.3" x2="64.8" y2="359.1" stroke="#4860f0"/>
<line x1="99.4" y1="353.3" x2="98.7" y2="356.0" stroke="#2840d8"/>
<line x1="105.7" y1="347.5" x2="105.8" y2="350.1" stroke="#4860f0"/>
<line x1="56.7" y1="359.1" x2="58.3" y2="361.3" stroke="#4860f0"/>
<line x1="78.7" y1="375.2" x2="80.4" y2="377.4" stroke="#2038e0"/>
<line x1="102.5" y1="354.2" x2="103.6" y2="356.7" stroke="#4860f0"/>
<line x1="85.1" y1="367.0" x2="84.2" y2="368.3" stroke="#2038e0"/>
<line x1="109.8" y1="351.6" x2="109.9" y2="353.0" stroke="#2840d8"/>
<line x1="108.9" y1="349.5" x2="107.9" y2="351.2" stroke="#4860f0"/>
<line x1="98.0" y1="367.2" x2="98.2" y2="368.8" stroke="#2840d8"/>
<line x1="53.2" y1="354.8" x2="54.1" y2="356.0" stroke="#2038e0"/>
<line x1="82.9" y1="367.4" x2="83.5" y2="369.1" stroke="#2038e0"/>
<line x1="52.3" y1="353.8" x2="51.4" y2="355.4" stroke="#2038e0"/>
<line x1="82.1" y1="373.4" x2="81.3" y2="374.6" stroke="#2840d8"/>
<line x1="101.3" y1="350.0" x2="102.0" y2="352.0" stroke="#4860f0"/>
<line x1="107.2" y1="356.4" x2="108.5" y2="358.3" stroke="#3048e8"/>
<line x1="98.8" y1="354.5" x2="99.7" y2="356.1" stroke="#2038e0"/>
<line x1="102.5" y1="365.4" x2="102.4" y2="368.0" stroke="#4860f0"/>
<line x1="78.6" y1="366.6" x2="79.0" y2="368.1" stroke="#2840d8"/>
<line x1="79.9" y1="369.4" x2="79.0" y2="371.1" stroke="#3048e8"/>
<line x1="71.0" y1="368.5" x2="72.3" y2="370.7" stroke="#2840d8"/>
<line x1="63.6" y1="376.7" x2="62.9" y2="379.1" stroke="#3048e8"/>
<line x1="101.4" y1="364.5" x2="102.0" y2="366.6" stroke="#2038e0"/>
<line x1="95.0" y1="366.8" x2="93.7" y2="369.1" stroke="#2038e0"/>
<line x1="90.8" y1="373.0" x2="91.3" y2="375.7" stroke="#4860f0"/>
<line x1="49.0" y1="345.1" x2="49.6" y2="346.9" stroke="#3048e8"/>
<line x1="61.5" y1="350.6" x2="61.7" y2="352.3" stroke="#2840d8"/>
<line x1="78.1" y1="366.0" x2="79.2" y2="367.7" stroke="#3048e8"/>
<line x1="68.0" y1="355.6" x2="68.7" y2="357.4" stroke="#3048e8"/>
<line x1="77.7" y1="373.1" x2="77.5" y2="375.3" stroke="#2840d8"/>
<line x1="62.8" y1="362.8" x2="62.8" y2="365.1" stroke="#2840d8"/>
<line x1="65.4" y1="377.0" x2="65.4" y2="378.9" stroke="#2038e0"/>
<line x1="71.7" y1="359.8" x2="71.4" y2="361.1" stroke="#2840d8"/>
<line x1="82.9" y1="378.4" x2="83.3" y2="381.1" stroke="#2840d8"/>
<line x1="100.8" y1="361.2" x2="101.2" y2="362.8" stroke="#4860f0"/>
<line x1="71.4" y1="370.4" x2="70.6" y2="371.9" stroke="#2038e0"/>
<line x1="71.8" y1="364.4" x2="71.0" y2="366.2" stroke="#3048e8"/>
<line x1="79.7" y1="379.4" x2="80.4" y2="381.5" stroke="#4860f0"/>
<line x1="79.4" y1="367.0" x2="78.3" y2="368.6" stroke="#2840d8"/>
<line x1="87.9" y1="374.4" x2="86.7" y2="376.4" stroke="#3048e8"/>
<line x1="101.4" y1="353.9" x2="102.1" y2="355.8" stroke="#2038e0"/>
<line x1="63.3" y1="381.6" x2="63.9" y2="383.1" stroke="#3048e8"/>
<line x1="66.4" y1="371.6" x2="65.8" y2="373.5" stroke="#2038e0"/>
<line x1="66.9" y1="362.0" x2="67.1" y2="364.6" stroke="#2840d8"/>
<line x1="85.9" y1="370.5" x2="85.7" y2="373.1" stroke="#2840d8"/>
<line x1="106.9" y1="357.0" x2="105.5" y2="359.2" stroke="#2840d8"/>
<line x1="60.1" y1="350.0" x2="61.1" y2="351.8" stroke="#3048e8"/>
<line x1="106.8" y1="352.4" x2="105.8" y2="353.9" stroke="#4860f0"/>
<line x1="79.8" y1="373.8" x2="78.7" y2="376.3" stroke="#2038e0"/>
<line x1="100.4" y1="364.9" x2="101.3" y2="366.4" stroke="#4860f0"/>
<line x1="93.9" y1="373.3" x2="92.7" y2="375.3" stroke="#3048e8"/>
<line x1="57.0" y1="349.5" x2="56.5" y2="351.3" stroke="#2038e0"/>
<line x1="88.0" y1="368.5" x2="87.2" y2="370.2" stroke="#2840d8"/>
<line x1="51.9" y1="350.2" x2="52.2" y2="351.9" stroke="#2840d8"/>
<line x1="104.7" y1="350.9" x2="104.1" y2="352.4" stroke="#2038e0"/>
<line x1="108.7" y1="352.4" x2="107.9" y2="355.0" stroke="#3048e8"/>
<line x1="57.1" y1="367.2" x2="57.4" y2="368.6" stroke="#2038e0"/>
<line x1="64.4" y1="374.7" x2="63.5" y2="376.4" stroke="#2840d8"/>
<line x1="81.1" y1="370.5" x2="80.8" y2="372.0" stroke="#2038e0"/>
<line x1="95.5" y1="367.5" x2="95.8" y2="369.4" stroke="#3048e8"/>
<line x1="53.2" y1="345.9" x2="53.5" y2="347.7" stroke="#2038e0"/>
<line x1="104.6" y1="359.2" x2="105.1" y2="361.1" stroke="#4860f0"/>
<line x1="91.8" y1="375.4" x2="91.1" y2="377.0" stroke="#4860f0"/>
<line x1="56.4" y1="350.3" x2="57.5" y2="352.6" stroke="#3048e8"/>
<line x1="69.0" y1="365.3" x2="68.5" y2="367.0" stroke="#3048e8"/>
<line x1="73.1" y1="363.2" x2="72.8" y2="365.0" stroke="#4860f0"/>
<line x1="75.3" y1="363.7" x2="76.1" y2="365.0" stroke="#4860f0"/>
<line x1="57.6" y1="368.3" x2="57.7" y2="370.4" stroke="#2038e0"/>
<line x1="57.2" y1="349.7" x2="57.3" y2="352.4" stroke="#2840d8"/>
<line x1="66.0" y1="353.9" x2="65.0" y2="355.3" stroke="#3048e8"/>
<line x1="107.8" y1="353.4" x2="106.9" y2="355.6" stroke="#2038e0"/>
<line x1="66.3" y1="357.9" x2="67.5" y2="360.0" stroke="#3048e8"/>
<line x1="60.4" y1="350.6" x2="59.8" y2="352.7" stroke="#4860f0"/>
<line x1="71.1" y1="363.8" x2="70.2" y2="366.2" stroke="#4860f0"/>
<line x1="57.9" y1="370.9" x2="56.7" y2="372.9" stroke="#3048e8"/>
<line x1="47.6" y1="342.5" x2="47.2" y2="344.0" stroke="#2038e0"/>
<line x1="70.1" y1="378.1" x2="69.5" y2="380.8" stroke="#4860f0"/>
<line x1="50.7" y1="345.2" x2="51.5" y2="347.7" stroke="#2840d8"/>
<line x1="51.1" y1="344.7" x2="50.8" y2="346.2" stroke="#2840d8"/>
<line x1="58.9" y1="361.9" x2="59.6" y2="364.0" stroke="#2840d8"/>
<line x1="52.7" y1="349.1" x2="53.1" y2="350.7" stroke="#4860f0"/>
<line x1="103.3" y1="356.4" x2="104.3" y2="357.8" stroke="#2840d8"/>
<line x1="107.0" y1="356.5" x2="107.1" y2="358.6" stroke="#2038e0"/>
<line x1="61.9" y1="352.2" x2="62.3" y2="353.6" stroke="#3048e8"/>
<line x1="67.7" y1="361.0" x2="68.5" y2="362.2" stroke="#2840d8"/>
<line x1="85.0" y1="374.3" x2="83.7" y2="376.1" stroke="#4860f0"/>
<line x1="50.3" y1="344.6" x2="49.2" y2="346.2" stroke="#2840d8"/>
<line x1="53.7" y1="353.8" x2="54.9" y2="355.5" stroke="#4860f0"/>
<line x1="64.7" y1="355.9" x2="64.1" y2="358.0" stroke="#3048e8"/>
<line x1="51.5" y1="348.9" x2="50.4" y2="351.4" stroke="#2038e0"/>
<line x1="65.9" y1="369.1" x2="65.7" y2="371.2" stroke="#3048e8"/>
<line x1="49.0" y1="343.3" x2="49.1" y2="345.9" stroke="#3048e8"/>
<line x1="87.3" y1="368.6" x2="87.6" y2="370.0" stroke="#2038e0"/>
<line x1="68.8" y1="376.5" x2="68.2" y2="378.3" stroke="#2038e0"/>
<line x1="94.8" y1="360.3" x2="94.9" y2="361.7" stroke="#2840d8"/>
<line x1="99.3" y1="368.0" x2="98.9" y2="369.6" stroke="#3048e8"/>
<line x1="77.4" y1="375.9" x2="78.5" y2="377.7" stroke="#2038e0"/>
<line x1="72.9" y1="363.0" x2="72.7" y2="365.8" stroke="#2038e0"/>
<line x1="63.0" y1="380.9" x2="62.8" y2="383.6" stroke="#2840d8"/>
<line x1="87.7" y1="375.2" x2="88.1" y2="376.8" stroke="#2840d8"/>
<line x1="79.3" y1="366.6" x2="79.0" y2="369.2" stroke="#2840d8"/>
<line x1="60.3" y1="367.9" x2="61.2" y2="369.1" stroke="#2840d8"/>
<line x1="99.6" y1="360.2" x2="99.4" y2="361.6" stroke="#3048e8"/>
<line x1="85.6" y1="368.6" x2="85.9" y2="370.0" stroke="#2038e0"/>
<line x1="71.0" y1="369.3" x2="69.7" y2="371.1" stroke="#2840d8"/>
<line x1="65.8" y1="363.2" x2="65.4" y2="365.2" stroke="#2038e0"/>
<line x1="65.2" y1="374.8" x2="65.6" y2="376.5" stroke="#2840d8"/>
<line x1="87.2" y1="376.3" x2="88.4" y2="378.4" stroke="#3048e8"/>
<line x1="62.9" y1="362.5" x2="63.9" y2="364.8" stroke="#2840d8"/>
<line x1="61.1" y1="367.3" x2="60.2" y2="368.8" stroke="#2840d8"/>
<line x1="106.0" y1="356.9" x2="104.9" y2="358.4" stroke="#2840d8"/>
<line x1="61.9" y1="374.6" x2="62.7" y2="375.8" stroke="#3048e8"/>
<line x1="74.5" y1="378.2" x2="75.9" y2="380.4" stroke="#2038e0"/>
<line x1="67.0" y1="380.6" x2="68.4" y2="382.8" stroke="#2840d8"/>
<line x1="59.5" y1="363.4" x2="59.7" y2="365.9" stroke="#2840d8"/>
<line x1="86.7" y1="372.2" x2="87.4" y2="373.9" stroke="#2038e0"/>
<line x1="94.9" y1="371.1" x2="96.2" y2="373.1" stroke="#4860f0"/>
<line x1="107.9" y1="355.5" x2="108.7" y2="357.7" stroke="#2840d8"/>
<line x1="78.4" y1="366.6" x2="79.3" y2="368.7" stroke="#2038e0"/>
<line x1="53.3" y1="344.3" x2="53.1" y2="345.8" stroke="#2038e0"/>
<line x1="110.4" y1="342.3" x2="110.6" y2="343.8" stroke="#3048e8"/>
<line x1="60.7" y1="368.4" x2="60.2" y2="370.9" stroke="#2840d8"/>
<line x1="95.9" y1="365.2" x2="95.9" y2="366.6" stroke="#3048e8"/>
<line x1="71.8" y1="366.2" x2="71.4" y2="368.0" stroke="#3048e8"/>
<line x1="109.1" y1="351.5" x2="108.3" y2="353.5" stroke="#3048e8"/>
<line x1="66.6" y1="363.5" x2="66.4" y2="366.0" stroke="#3048e8"/>
<line x1="72.2" y1="373.6" x2="71.4" y2="375.5" stroke="#3048e8"/>
<line x1="98.9" y1="357.9" x2="98.8" y2="359.5" stroke="#2840d8"/>
<line x1="102.7" y1="355.0" x2="101.7" y2="357.1" stroke="#2840d8"/>
<line x1="62.8" y1="358.7" x2="63.1" y2="360.0" stroke="#3048e8"/>
<line x1="53.2" y1="342.9" x2="52.7" y2="344.8" stroke="#4860f0"/>
<line x1="97.4" y1="358.3" x2="98.4" y2="360.8" stroke="#2840d8"/>
<line x1="77.2" y1="363.8" x2="77.1" y2="365.4" stroke="#2038e0"/>
<line x1="76.2" y1="366.8" x2="75.3" y2="368.1" stroke="#2038e0"/>
<line x1="80.5" y1="376.3" x2="81.5" y2="378.3" stroke="#2840d8"/>
<line x1="49.6" y1="344.1" x2="51.1" y2="346.2" stroke="#2840d8"/>
<line x1="74.8" y1="365.9" x2="75.4" y2="367.4" stroke="#2840d8"/>
<line x1="90.9" y1="368.1" x2="90.1" y2="369.4" stroke="#2840d8"/>
<line x1="60.1" y1="375.5" x2="59.2" y2="377.0" stroke="#4860f0"/>
<line x1="86.4" y1="376.9" x2="86.4" y2="379.3" stroke="#4860f0"/>
<line x1="108.6" y1="348.7" x2="107.6" y2="350.2" stroke="#4860f0"/>
<line x1="64.7" y1="375.4" x2="65.5" y2="377.2" stroke="#2038e0"/>
<line x1="93.2" y1="369.3" x2="93.3" y2="371.8" stroke="#3048e8"/>
<line x1="71.8" y1="370.9" x2="72.8" y2="373.0" stroke="#4860f0"/>
<line x1="110.5" y1="343.8" x2="109.0" y2="345.8" stroke="#3048e8"/>
<line x1="56.0" y1="345.2" x2="54.6" y2="347.6" stroke="#3048e8"/>
<line x1="97.7" y1="364.2" x2="97.7" y2="365.9" stroke="#4860f0"/>
<line x1="99.1" y1="352.1" x2="100.0" y2="354.5" stroke="#2038e0"/>
<line x1="72.4" y1="364.9" x2="72.0" y2="367.4" stroke="#2038e0"/>
<line x1="107.8" y1="353.8" x2="107.9" y2="355.9" stroke="#4860f0"/>
<line x1="95.4" y1="372.1" x2="94.5" y2="374.2" stroke="#2038e0"/>
<line x1="56.2" y1="357.0" x2="55.8" y2="358.9" stroke="#3048e8"/>
<line x1="60.8" y1="351.3" x2="61.8" y2="352.8" stroke="#2038e0"/>
<line x1="64.4" y1="374.4" x2="64.9" y2="376.6" stroke="#3048e8"/>
<line x1="64.4" y1="363.6" x2="63.8" y2="365.9" stroke="#4860f0"/>
<line x1="88.4" y1="375.7" x2="87.9" y2="377.9" stroke="#3048e8"/>
<line x1="58.8" y1="367.4" x2="57.3" y2="369.4" stroke="#2840d8"/>
<line x1="84.0" y1="376.3" x2="83.5" y2="378.1" stroke="#3048e8"/>
<line x1="54.5" y1="345.4" x2="54.3" y2="347.1" stroke="#2840d8"/>
<line x1="94.4" y1="371.7" x2="93.8" y2="373.2" stroke="#2840d8"/>
<line x1="64.1" y1="375.0" x2="62.5" y2="377.2" stroke="#3048e8"/>
<line x1="77.7" y1="367.7" x2="76.8" y2="369.3" stroke="#2840d8"/>
<line x1="109.2" y1="346.6" x2="108.4" y2="348.6" stroke="#4860f0"/>
<line x1="58.6" y1="365.8" x2="59.8" y2="368.3" stroke="#2038e0"/>
<line x1="106.9" y1="351.5" x2="107.8" y2="354.1" stroke="#3048e8"/>
<line x1="102.0" y1="353.0" x2="102.6" y2="354.4" stroke="#3048e8"/>
<line x1="64.5" y1="381.0" x2="65.8" y2="383.2" stroke="#4860f0"/>
<line x1="69.2" y1="376.9" x2="68.6" y2="379.2" stroke="#4860f0"/>
<line x1="64.3" y1="354.5" x2="64.1" y2="356.0" stroke="#4860f0"/>
<line x1="51.3" y1="351.2" x2="51.7" y2="353.9" stroke="#2840d8"/>
<line x1="80.4" y1="368.6" x2="81.3" y2="371.2" stroke="#3048e8"/>
<line x1="66.2" y1="379.9" x2="67.5" y2="382.3" stroke="#4860f0"/>
<line x1="82.7" y1="372.7" x2="82.2" y2="374.2" stroke="#2038e0"/>
<line x1="68.5" y1="358.7" x2="69.0" y2="360.2" stroke="#4860f0"/>
<line x1="65.8" y1="366.5" x2="66.1" y2="369.2" stroke="#2038e0"/>
<line x1="56.0" y1="359.6" x2="56.5" y2="361.4" stroke="#4860f0"/>
<line x1="55.9" y1="353.9" x2="56.8" y2="355.6" stroke="#3048e8"/>
<line x1="57.9" y1="361.5" x2="57.4" y2="363.7" stroke="#2840d8"/>
<line x1="63.7" y1="373.8" x2="65.0" y2="376.1" stroke="#4860f0"/>
<line x1="69.2" y1="368.0" x2="70.1" y2="369.9" stroke="#2840d8"/>
<line x1="55.9" y1="364.3" x2="55.9" y2="365.6" stroke="#2840d8"/>
<line x1="67.7" y1="365.7" x2="66.8" y2="367.8" stroke="#4860f0"/>
<line x1="69.5" y1="373.5" x2="70.7" y2="375.9" stroke="#2840d8"/>
<line x1="57.6" y1="366.1" x2="57.6" y2="367.9" stroke="#2840d8"/>
<line x1="78.5" y1="379.3" x2="79.8" y2="381.4" stroke="#4860f0"/>
<line x1="103.0" y1="358.6" x2="102.2" y2="360.3" stroke="#2038e0"/>
<line x1="72.4" y1="364.3" x2="72.3" y2="366.6" stroke="#2038e0"/>
<line x1="80.2" y1="375.8" x2="80.0" y2="377.4" stroke="#2038e0"/>
<line x1="51.2" y1="343.2" x2="50.9" y2="344.7" stroke="#2840d8"/>
<line x1="50.9" y1="342.6" x2="51.0" y2="344.6" stroke="#2038e0"/>
<line x1="53.8" y1="346.4" x2="52.7" y2="348.0" stroke="#3048e8"/>
<line x1="66.9" y1="358.3" x2="66.2" y2="359.7" stroke="#4860f0"/>
<line x1="92.3" y1="366.8" x2="92.2" y2="368.1" stroke="#4860f0"/>
<line x1="74.0" y1="375.4" x2="73.1" y2="376.7" stroke="#2840d8"/>
<line x1="99.1" y1="363.4" x2="98.8" y2="366.1" stroke="#3048e8"/>
<line x1="76.2" y1="366.3" x2="77.2" y2="368.1" stroke="#2038e0"/>
<line x1="59.8" y1="358.2" x2="58.6" y2="360.3" stroke="#2840d8"/>
<line x1="70.9" y1="357.3" x2="69.8" y2="359.2" stroke="#3048e8"/>
<line x1="57.0" y1="345.8" x2="56.9" y2="348.3" stroke="#2038e0"/>
<line x1="52.4" y1="343.0" x2="51.6" y2="345.2" stroke="#2840d8"/>
<line x1="58.4" y1="369.1" x2="59.3" y2="371.2" stroke="#4860f0"/>
<line x1="61.6" y1="352.2" x2="61.6" y2="353.6" stroke="#2038e0"/>
<line x1="95.0" y1="371.4" x2="94.6" y2="373.0" stroke="#3048e8"/>
<line x1="98.2" y1="354.9" x2="97.4" y2="356.2" stroke="#3048e8"/>
<line x1="78.0" y1="368.2" x2="78.9" y2="369.6" stroke="#2840d8"/>
<line x1="63.2" y1="360.0" x2="64.1" y2="362.6" stroke="#2840d8"/>
<line x1="108.2" y1="348.0" x2="108.4" y2="350.0" stroke="#2840d8"/>
<line x1="109.1" y1="345.0" x2="108.4" y2="346.6" stroke="#2038e0"/>
<line x1="91.9" y1="373.6" x2="92.0" y2="376.4" stroke="#2038e0"/>
<line x1="68.7" y1="377.6" x2="70.2" y2="379.7" stroke="#4860f0"/>
<line x1="51.0" y1="344.2" x2="51.6" y2="346.8" stroke="#3048e8"/>
<line x1="101.0" y1="358.4" x2="101.2" y2="360.6" stroke="#2038e0"/>
<line x1="87.5" y1="365.1" x2="87.6" y2="367.2" stroke="#2840d8"/>
<line x1="67.2" y1="370.2" x2="68.1" y2="372.6" stroke="#2840d8"/>
<line x1="58.7" y1="348.1" x2="59.4" y2="349.8" stroke="#4860f0"/>
<line x1="106.5" y1="354.1" x2="106.4" y2="355.7" stroke="#2038e0"/>
<line x1="65.8" y1="366.1" x2="65.9" y2="368.4" stroke="#4860f0"/>
<line x1="57.8" y1="359.4" x2="57.5" y2="361.3" stroke="#4860f0"/>
<line x1="58.8" y1="364.3" x2="59.6" y2="365.8" stroke="#4860f0"/>
<line x1="77.2" y1="369.8" x2="77.9" y2="372.0" stroke="#4860f0"/>
<line x1="108.2" y1="351.8" x2="108.8" y2="353.1" stroke="#2038e0"/>
<line x1="77.0" y1="376.7" x2="76.3" y2="378.5" stroke="#4860f0"/>
<line x1="90.4" y1="370.3" x2="89.8" y2="371.5" stroke="#4860f0"/>
<line x1="98.2" y1="363.7" x2="99.5" y2="365.9" stroke="#4860f0"/>
<line x1="65.1" y1="359.0" x2="65.3" y2="360.6" stroke="#2840d8"/>
<line x1="61.7" y1="353.1" x2="61.0" y2="354.6" stroke="#4860f0"/>
<line x1="67.6" y1="357.3" x2="66.1" y2="359.7" stroke="#2038e0"/>
<line x1="98.5" y1="357.2" x2="98.0" y2="359.5" stroke="#2038e0"/>
<line x1="51.5" y1="346.9" x2="51.0" y2="348.9" stroke="#2840d8"/>
<line x1="72.3" y1="359.0" x2="70.9" y2="361.4" stroke="#3048e8"/>
<line x1="64.2" y1="354.0" x2="65.0" y2="356.3" stroke="#4860f0"/>
<line x1="68.3" y1="371.5" x2="69.4" y2="373.7" stroke="#2038e0"/>
<line x1="66.5" y1="369.9" x2="66.0" y2="372.3" stroke="#2840d8"/>
<line x1="62.1" y1="356.7" x2="61.6" y2="358.5" stroke="#2038e0"/>
<line x1="60.6" y1="356.8" x2="60.6" y2="358.7" stroke="#3048e8"/>
<line x1="52.4" y1="348.6" x2="53.6" y2="351.1" stroke="#2840d8"/>
<line x1="69.9" y1="376.7" x2="70.6" y2="377.8" stroke="#3048e8"/>
<line x1="67.0" y1="372.0" x2="67.7" y2="373.1" stroke="#2840d8"/>
<line x1="67.6" y1="370.6" x2="67.8" y2="372.8" stroke="#4860f0"/>
<line x1="89.4" y1="370.6" x2="89.8" y2="373.2" stroke="#4860f0"/>
<line x1="66.5" y1="358.0" x2="66.1" y2="359.4" stroke="#2038e0"/>
<line x1="52.4" y1="349.6" x2="52.8" y2="352.1" stroke="#4860f0"/>
<line x1="65.6" y1="360.2" x2="64.9" y2="362.5" stroke="#2038e0"/>
<line x1="57.0" y1="356.8" x2="56.9" y2="358.2" stroke="#4860f0"/>
<line x1="90.6" y1="366.9" x2="91.7" y2="369.1" stroke="#4860f0"/>
<line x1="93.3" y1="368.8" x2="92.2" y2="371.3" stroke="#4860f0"/>
<line x1="62.1" y1="371.5" x2="63.5" y2="373.7" stroke="#2038e0"/>
<line x1="56.8" y1="361.4" x2="58.1" y2="363.8" stroke="#4860f0"/>
<line x1="101.5" y1="365.3" x2="102.0" y2="366.8" stroke="#2840d8"/>
<line x1="66" y1="385" x2="66.5" y2="387.4" stroke="#3048e8"/>
<line x1="68.5" y1="383" x2="69.0" y2="385.4" stroke="#3048e8"/>
<line x1="64" y1="387" x2="64.5" y2="389.4" stroke="#3048e8"/>
<line x1="79" y1="391.5" x2="79.5" y2="393.9" stroke="#3048e8"/>
<line x1="81" y1="396.5" x2="81.5" y2="398.9" stroke="#3048e8"/>
<line x1="80.5" y1="402" x2="80.8" y2="404" stroke="#e03030"/>
</g>
<g id="p4" stroke-width="0.7">
<line x1="206.0" y1="373.4" x2="205.4" y2="374.4" stroke="#2840d8"/>
<line x1="239.8" y1="378.8" x2="239.2" y2="380.1" stroke="#4860f0"/>
<line x1="216.9" y1="391.0" x2="216.8" y2="392.6" stroke="#2038e0"/>
<line x1="209.7" y1="373.3" x2="209.8" y2="374.5" stroke="#30d030"/>
<line x1="227.7" y1="385.1" x2="228.8" y2="386.7" stroke="#507070"/>
<line x1="221.2" y1="391.0" x2="221.8" y2="392.2" stroke="#20b050"/>
<line x1="183.9" y1="384.6" x2="184.3" y2="386.0" stroke="#20b050"/>
<line x1="195.5" y1="394.0" x2="195.4" y2="395.8" stroke="#40c840"/>
<line x1="189.7" y1="357.0" x2="188.7" y2="358.7" stroke="#2038e0"/>
<line x1="239.8" y1="389.9" x2="238.9" y2="390.8" stroke="#507070"/>
<line x1="185.2" y1="376.6" x2="184.7" y2="377.7" stroke="#507070"/>
<line x1="220.4" y1="394.3" x2="221.8" y2="395.9" stroke="#50e050"/>
<line x1="235.6" y1="365.2" x2="236.2" y2="366.6" stroke="#3048e8"/>
<line x1="224.2" y1="386.5" x2="223.2" y2="387.4" stroke="#2840d8"/>
<line x1="213.1" y1="369.7" x2="214.1" y2="370.4" stroke="#4860f0"/>
<line x1="190.4" y1="388.5" x2="191.0" y2="389.9" stroke="#3048e8"/>
<line x1="223.4" y1="372.0" x2="224.2" y2="373.6" stroke="#4860f0"/>
<line x1="186.0" y1="389.6" x2="187.3" y2="390.9" stroke="#3048e8"/>
<line x1="188.7" y1="356.2" x2="187.7" y2="357.4" stroke="#3048e8"/>
<line x1="238.3" y1="383.2" x2="239.5" y2="384.3" stroke="#3048e8"/>
<line x1="220.5" y1="393.2" x2="220.4" y2="394.4" stroke="#30d030"/>
<line x1="242.9" y1="364.5" x2="244.6" y2="365.7" stroke="#507070"/>
<line x1="207.9" y1="402.4" x2="208.3" y2="403.7" stroke="#2038e0"/>
<line x1="199.3" y1="392.7" x2="200.1" y2="393.5" stroke="#2038e0"/>
<line x1="195.4" y1="363.2" x2="196.8" y2="364.6" stroke="#40c840"/>
<line x1="193.3" y1="360.5" x2="194.5" y2="362.3" stroke="#507070"/>
<line x1="196.9" y1="370.0" x2="198.7" y2="371.4" stroke="#2840d8"/>
<line x1="202.7" y1="392.5" x2="201.5" y2="393.8" stroke="#4860f0"/>
<line x1="216.9" y1="398.3" x2="217.3" y2="399.9" stroke="#3048e8"/>
<line x1="183.7" y1="388.7" x2="184.0" y2="390.9" stroke="#305090"/>
<line x1="222.3" y1="386.7" x2="223.2" y2="388.9" stroke="#507070"/>
<line x1="193.0" y1="393.9" x2="194.6" y2="395.2" stroke="#2038e0"/>
<line x1="186.4" y1="376.8" x2="186.8" y2="377.8" stroke="#3048e8"/>
<line x1="204.2" y1="402.1" x2="203.1" y2="403.4" stroke="#50e050"/>
<line x1="239.3" y1="359.6" x2="240.6" y2="360.7" stroke="#305090"/>
<line x1="236.0" y1="387.1" x2="236.5" y2="388.1" stroke="#406080"/>
<line x1="237.0" y1="378.6" x2="237.0" y2="380.7" stroke="#507070"/>
<line x1="225.7" y1="381.4" x2="226.0" y2="383.3" stroke="#2840d8"/>
<line x1="219.5" y1="373.8" x2="220.6" y2="375.8" stroke="#40c840"/>
<line x1="211.9" y1="385.0" x2="213.1" y2="386.3" stroke="#507070"/>
<line x1="185.2" y1="381.4" x2="185.3" y2="382.7" stroke="#305090"/>
<line x1="226.8" y1="388.4" x2="225.3" y2="390.1" stroke="#2840d8"/>
<line x1="194.2" y1="374.1" x2="195.0" y2="375.6" stroke="#2840d8"/>
<line x1="205.1" y1="399.9" x2="203.8" y2="401.2" stroke="#3048e8"/>
<line x1="214.4" y1="389.5" x2="213.3" y2="391.4" stroke="#3048e8"/>
<line x1="215.5" y1="394.4" x2="214.2" y2="396.0" stroke="#2038e0"/>
<line x1="199.0" y1="396.0" x2="199.7" y2="398.0" stroke="#40c840"/>
<line x1="228.0" y1="371.4" x2="226.8" y2="373.5" stroke="#50e050"/>
<line x1="215.3" y1="390.3" x2="215.3" y2="391.5" stroke="#507070"/>
<line x1="212.9" y1="392.1" x2="212.3" y2="393.4" stroke="#20b050"/>
<line x1="193.8" y1="380.9" x2="193.3" y2="382.1" stroke="#20b050"/>
<line x1="236.0" y1="383.3" x2="235.7" y2="384.8" stroke="#406080"/>
<line x1="188.5" y1="352.9" x2="188.6" y2="354.6" stroke="#2840d8"/>
<line x1="187.2" y1="365.7" x2="188.2" y2="367.0" stroke="#2840d8"/>
<line x1="236.7" y1="364.6" x2="237.1" y2="365.7" stroke="#3048e8"/>
<line x1="187.5" y1="364.2" x2="187.4" y2="365.5" stroke="#3048e8"/>
<line x1="239.1" y1="385.2" x2="238.8" y2="387.2" stroke="#507070"/>
<line x1="231.3" y1="369.4" x2="231.9" y2="370.8" stroke="#2038e0"/>
<line x1="238.9" y1="374.3" x2="239.6" y2="376.6" stroke="#2038e0"/>
<line x1="238.1" y1="366.4" x2="238.8" y2="367.7" stroke="#3048e8"/>
<line x1="225.4" y1="375.0" x2="227.0" y2="376.2" stroke="#20b050"/>
<line x1="197.4" y1="395.4" x2="196.6" y2="397.4" stroke="#3048e8"/>
<line x1="215.0" y1="389.6" x2="214.3" y2="391.4" stroke="#4860f0"/>
<line x1="199.7" y1="399.6" x2="198.9" y2="400.9" stroke="#40c840"/>
<line x1="199.0" y1="399.3" x2="199.9" y2="400.7" stroke="#3048e8"/>
<line x1="245.0" y1="362.3" x2="245.1" y2="363.8" stroke="#2038e0"/>
<line x1="182.6" y1="355.9" x2="181.5" y2="357.2" stroke="#2038e0"/>
<line x1="240.8" y1="387.7" x2="239.3" y2="389.2" stroke="#2840d8"/>
<line x1="210.4" y1="369.6" x2="209.8" y2="371.3" stroke="#3048e8"/>
<line x1="194.7" y1="376.9" x2="194.1" y2="378.6" stroke="#4860f0"/>
<line x1="192.8" y1="360.7" x2="191.8" y2="362.5" stroke="#2840d8"/>
<line x1="236.2" y1="392.0" x2="235.4" y2="394.0" stroke="#2840d8"/>
<line x1="210.8" y1="398.5" x2="210.3" y2="400.6" stroke="#2840d8"/>
<line x1="230.7" y1="392.8" x2="231.5" y2="394.0" stroke="#507070"/>
<line x1="217.9" y1="381.6" x2="217.7" y2="383.0" stroke="#30d030"/>
<line x1="199.0" y1="389.9" x2="199.7" y2="390.7" stroke="#30d030"/>
<line x1="221.0" y1="395.1" x2="222.0" y2="397.0" stroke="#30d030"/>
<line x1="215.9" y1="383.3" x2="215.8" y2="384.5" stroke="#406080"/>
<line x1="214.8" y1="390.4" x2="213.5" y2="391.9" stroke="#50e050"/>
<line x1="200.2" y1="404.9" x2="200.8" y2="406.0" stroke="#4860f0"/>
<line x1="198.9" y1="384.7" x2="200.0" y2="385.7" stroke="#2038e0"/>
<line x1="187.4" y1="356.4" x2="188.6" y2="357.9" stroke="#2038e0"/>
<line x1="234.4" y1="386.9" x2="234.5" y2="388.8" stroke="#2840d8"/>
<line x1="198.9" y1="397.4" x2="200.0" y2="398.7" stroke="#20b050"/>
<line x1="242.5" y1="387.9" x2="241.5" y2="389.7" stroke="#406080"/>
<line x1="191.2" y1="353.8" x2="190.5" y2="355.8" stroke="#2840d8"/>
<line x1="213.2" y1="386.7" x2="213.0" y2="387.7" stroke="#30d030"/>
<line x1="241.1" y1="375.3" x2="239.6" y2="377.1" stroke="#507070"/>
<line x1="191.1" y1="400.1" x2="190.6" y2="402.2" stroke="#20b050"/>
<line x1="229.2" y1="378.8" x2="229.1" y2="379.9" stroke="#2840d8"/>
<line x1="216.2" y1="375.4" x2="216.2" y2="376.6" stroke="#4860f0"/>
<line x1="187.1" y1="368.9" x2="188.3" y2="370.3" stroke="#4860f0"/>
<line x1="204.0" y1="379.9" x2="204.5" y2="381.0" stroke="#2038e0"/>
<line x1="191.2" y1="375.5" x2="193.0" y2="376.8" stroke="#30d030"/>
<line x1="200.2" y1="399.8" x2="200.5" y2="401.4" stroke="#40c840"/>
<line x1="241.9" y1="385.7" x2="241.2" y2="387.0" stroke="#406080"/>
<line x1="196.4" y1="368.0" x2="196.7" y2="369.2" stroke="#3048e8"/>
<line x1="200.2" y1="374.6" x2="199.9" y2="376.3" stroke="#2038e0"/>
<line x1="240.5" y1="370.5" x2="241.1" y2="372.7" stroke="#4860f0"/>
<line x1="196.4" y1="381.5" x2="194.9" y2="383.2" stroke="#20b050"/>
<line x1="207.6" y1="402.0" x2="206.5" y2="403.8" stroke="#4860f0"/>
<line x1="182.9" y1="356.6" x2="184.6" y2="358.3" stroke="#2038e0"/>
<line x1="243.0" y1="376.0" x2="244.4" y2="377.3" stroke="#507070"/>
<line x1="238.5" y1="370.5" x2="239.4" y2="372.1" stroke="#507070"/>
<line x1="193.6" y1="387.3" x2="193.1" y2="388.2" stroke="#2038e0"/>
<line x1="184.0" y1="384.5" x2="184.4" y2="385.6" stroke="#2038e0"/>
<line x1="207.3" y1="384.6" x2="208.2" y2="385.7" stroke="#406080"/>
<line x1="216.1" y1="381.7" x2="216.8" y2="383.2" stroke="#50e050"/>
<line x1="241.4" y1="366.4" x2="242.2" y2="368.5" stroke="#3048e8"/>
<line x1="196.9" y1="395.7" x2="197.1" y2="397.8" stroke="#40c840"/>
<line x1="187.5" y1="351.1" x2="187.0" y2="353.0" stroke="#3048e8"/>
<line x1="183.8" y1="367.1" x2="184.3" y2="369.0" stroke="#3048e8"/>
<line x1="203.2" y1="380.7" x2="202.5" y2="381.4" stroke="#3048e8"/>
<line x1="196.2" y1="387.6" x2="196.6" y2="389.0" stroke="#2840d8"/>
<line x1="183.3" y1="363.8" x2="184.1" y2="365.0" stroke="#4860f0"/>
<line x1="210.9" y1="392.4" x2="212.2" y2="393.8" stroke="#2840d8"/>
<line x1="244.7" y1="362.0" x2="244.0" y2="363.7" stroke="#2038e0"/>
<line x1="215.7" y1="388.2" x2="216.1" y2="389.7" stroke="#2840d8"/>
<line x1="190.2" y1="382.4" x2="190.1" y2="383.7" stroke="#30d030"/>
<line x1="225.3" y1="387.5" x2="226.4" y2="389.6" stroke="#2840d8"/>
<line x1="230.4" y1="387.7" x2="229.3" y2="389.5" stroke="#406080"/>
<line x1="183.8" y1="364.4" x2="184.7" y2="365.1" stroke="#2038e0"/>
<line x1="186.8" y1="394.0" x2="187.6" y2="395.7" stroke="#20b050"/>
<line x1="189.7" y1="373.4" x2="189.6" y2="374.6" stroke="#3048e8"/>
<line x1="196.8" y1="363.4" x2="195.9" y2="364.5" stroke="#2038e0"/>
<line x1="184.2" y1="373.8" x2="184.3" y2="375.0" stroke="#2840d8"/>
<line x1="245.1" y1="359.5" x2="245.4" y2="360.9" stroke="#3048e8"/>
<line x1="198.4" y1="402.2" x2="199.6" y2="403.7" stroke="#3048e8"/>
<line x1="226.2" y1="388.5" x2="225.7" y2="389.8" stroke="#3048e8"/>
<line x1="240.6" y1="357.6" x2="240.8" y2="358.7" stroke="#2038e0"/>
<line x1="210.2" y1="400.8" x2="209.6" y2="401.9" stroke="#50e050"/>
<line x1="213.9" y1="371.1" x2="213.5" y2="372.5" stroke="#2038e0"/>
<line x1="185.9" y1="380.3" x2="185.5" y2="381.7" stroke="#4860f0"/>
<line x1="195.4" y1="390.0" x2="194.0" y2="391.6" stroke="#20b050"/>
<line x1="200.0" y1="398.8" x2="199.8" y2="399.8" stroke="#4860f0"/>
<line x1="183.8" y1="380.3" x2="184.9" y2="381.4" stroke="#4860f0"/>
<line x1="243.2" y1="372.7" x2="244.1" y2="374.0" stroke="#2840d8"/>
<line x1="233.0" y1="386.8" x2="232.9" y2="389.2" stroke="#3048e8"/>
<line x1="208.1" y1="386.2" x2="208.4" y2="387.2" stroke="#20b050"/>
<line x1="229.8" y1="390.3" x2="231.1" y2="392.2" stroke="#3048e8"/>
<line x1="235.8" y1="369.0" x2="237.6" y2="370.5" stroke="#2840d8"/>
<line x1="182.4" y1="346.6" x2="181.9" y2="347.4" stroke="#406080"/>
<line x1="198.2" y1="394.7" x2="198.4" y2="396.4" stroke="#40c840"/>
<line x1="202.4" y1="400.8" x2="201.2" y2="402.8" stroke="#20b050"/>
<line x1="227.8" y1="394.9" x2="227.0" y2="396.8" stroke="#40c840"/>
<line x1="224.4" y1="390.5" x2="224.8" y2="391.6" stroke="#30d030"/>
<line x1="220.2" y1="382.8" x2="220.2" y2="385.1" stroke="#305090"/>
<line x1="234.0" y1="391.0" x2="234.9" y2="392.7" stroke="#406080"/>
<line x1="222.1" y1="368.2" x2="221.9" y2="369.9" stroke="#4860f0"/>
<line x1="217.0" y1="385.4" x2="218.4" y2="386.9" stroke="#4860f0"/>
<line x1="188.4" y1="352.8" x2="189.7" y2="354.0" stroke="#4860f0"/>
<line x1="190.2" y1="399.7" x2="190.1" y2="401.2" stroke="#3048e8"/>
<line x1="239.5" y1="388.6" x2="240.6" y2="390.7" stroke="#507070"/>
<line x1="195.1" y1="382.1" x2="194.2" y2="383.1" stroke="#50e050"/>
<line x1="188.6" y1="355.2" x2="189.5" y2="356.7" stroke="#2840d8"/>
<line x1="199.6" y1="374.7" x2="199.9" y2="375.7" stroke="#3048e8"/>
<line x1="238.7" y1="375.4" x2="238.4" y2="377.7" stroke="#2038e0"/>
<line x1="191.0" y1="358.2" x2="190.6" y2="359.1" stroke="#2038e0"/>
<line x1="197.7" y1="379.2" x2="198.6" y2="380.1" stroke="#2038e0"/>
<line x1="240.6" y1="383.3" x2="240.3" y2="384.6" stroke="#3048e8"/>
<line x1="230.4" y1="367.2" x2="229.4" y2="368.3" stroke="#3048e8"/>
<line x1="184.3" y1="355.9" x2="186.0" y2="357.3" stroke="#2038e0"/>
<line x1="211.2" y1="376.0" x2="210.6" y2="377.3" stroke="#507070"/>
<line x1="193.4" y1="379.6" x2="193.8" y2="380.7" stroke="#4860f0"/>
<line x1="225.6" y1="386.5" x2="224.5" y2="388.2" stroke="#2038e0"/>
<line x1="226.5" y1="375.3" x2="228.0" y2="376.9" stroke="#2840d8"/>
<line x1="182.5" y1="360.7" x2="181.8" y2="361.8" stroke="#2038e0"/>
<line x1="226.1" y1="373.4" x2="225.5" y2="374.9" stroke="#4860f0"/>
<line x1="237.6" y1="388.4" x2="237.9" y2="389.6" stroke="#2038e0"/>
<line x1="218.7" y1="373.1" x2="218.9" y2="375.3" stroke="#2038e0"/>
<line x1="232.6" y1="388.4" x2="233.6" y2="389.4" stroke="#406080"/>
<line x1="233.4" y1="385.1" x2="233.0" y2="386.1" stroke="#4860f0"/>
<line x1="226.3" y1="388.5" x2="225.2" y2="389.9" stroke="#2840d8"/>
<line x1="242.1" y1="368.7" x2="241.5" y2="370.8" stroke="#4860f0"/>
<line x1="207.9" y1="373.5" x2="208.2" y2="374.8" stroke="#4860f0"/>
<line x1="189.9" y1="378.4" x2="189.8" y2="380.7" stroke="#3048e8"/>
<line x1="200.4" y1="377.5" x2="201.8" y2="379.1" stroke="#305090"/>
<line x1="207.9" y1="382.4" x2="206.9" y2="384.1" stroke="#2840d8"/>
<line x1="182.7" y1="380.8" x2="183.0" y2="382.1" stroke="#4860f0"/>
<line x1="194.6" y1="377.7" x2="195.3" y2="378.5" stroke="#2840d8"/>
<line x1="231.8" y1="392.0" x2="230.4" y2="393.9" stroke="#305090"/>
<line x1="192.9" y1="397.3" x2="191.8" y2="398.5" stroke="#3048e8"/>
<line x1="189.1" y1="360.9" x2="189.4" y2="362.0" stroke="#2038e0"/>
<line x1="183.7" y1="387.8" x2="182.5" y2="389.6" stroke="#2038e0"/>
<line x1="192.8" y1="379.8" x2="194.2" y2="381.4" stroke="#40c840"/>
<line x1="220.5" y1="393.9" x2="220.7" y2="395.2" stroke="#40c840"/>
<line x1="239.4" y1="364.1" x2="239.1" y2="365.4" stroke="#2038e0"/>
<line x1="234.9" y1="380.3" x2="234.0" y2="381.3" stroke="#3048e8"/>
<line x1="214.5" y1="395.8" x2="214.1" y2="397.1" stroke="#2038e0"/>
<line x1="186.7" y1="358.6" x2="186.0" y2="359.6" stroke="#2840d8"/>
<line x1="208.8" y1="372.2" x2="208.6" y2="373.5" stroke="#2840d8"/>
<line x1="239.0" y1="388.9" x2="239.9" y2="390.5" stroke="#507070"/>
<line x1="198.9" y1="371.7" x2="199.4" y2="373.4" stroke="#2038e0"/>
<line x1="236.2" y1="370.8" x2="235.5" y2="372.7" stroke="#2038e0"/>
<line x1="188.3" y1="397.0" x2="188.9" y2="397.9" stroke="#50e050"/>
<line x1="202.6" y1="386.6" x2="201.5" y2="388.2" stroke="#30d030"/>
<line x1="212.3" y1="381.1" x2="214.0" y2="382.4" stroke="#2840d8"/>
<line x1="241.7" y1="362.8" x2="240.3" y2="364.7" stroke="#3048e8"/>
<line x1="227.5" y1="379.0" x2="226.8" y2="380.0" stroke="#30d030"/>
<line x1="217.6" y1="380.3" x2="217.9" y2="381.5" stroke="#30d030"/>
<line x1="185.9" y1="351.2" x2="185.4" y2="353.3" stroke="#2840d8"/>
<line x1="223.6" y1="383.4" x2="223.9" y2="385.1" stroke="#305090"/>
<line x1="196.3" y1="364.0" x2="195.8" y2="365.8" stroke="#4860f0"/>
<line x1="215.6" y1="388.9" x2="215.9" y2="390.5" stroke="#30d030"/>
<line x1="208.2" y1="395.7" x2="209.0" y2="396.3" stroke="#30d030"/>
<line x1="203.4" y1="384.4" x2="204.3" y2="385.2" stroke="#3048e8"/>
<line x1="244.5" y1="358.0" x2="245.1" y2="358.9" stroke="#2840d8"/>
<line x1="185.4" y1="369.8" x2="185.3" y2="371.8" stroke="#2840d8"/>
<line x1="205.0" y1="382.4" x2="206.8" y2="383.9" stroke="#406080"/>
<line x1="205.9" y1="392.9" x2="206.1" y2="394.9" stroke="#3048e8"/>
<line x1="236.6" y1="363.2" x2="237.3" y2="364.8" stroke="#2038e0"/>
<line x1="217.3" y1="369.9" x2="217.9" y2="371.7" stroke="#3048e8"/>
<line x1="188.0" y1="350.7" x2="188.4" y2="352.0" stroke="#507070"/>
<line x1="190.1" y1="378.4" x2="189.0" y2="380.2" stroke="#3048e8"/>
<line x1="193.5" y1="371.3" x2="192.6" y2="372.2" stroke="#2840d8"/>
<line x1="242.8" y1="360.3" x2="241.6" y2="361.9" stroke="#406080"/>
<line x1="200.7" y1="374.4" x2="201.9" y2="376.0" stroke="#3048e8"/>
<line x1="220.7" y1="384.1" x2="219.9" y2="385.5" stroke="#20b050"/>
<line x1="242.3" y1="385.9" x2="242.0" y2="387.1" stroke="#3048e8"/>
<line x1="230.4" y1="366.1" x2="231.3" y2="368.0" stroke="#2840d8"/>
<line x1="226.3" y1="385.6" x2="227.1" y2="387.2" stroke="#2038e0"/>
<line x1="187.3" y1="374.6" x2="186.1" y2="376.3" stroke="#406080"/>
<line x1="226.2" y1="380.9" x2="225.6" y2="382.5" stroke="#4860f0"/>
<line x1="208.2" y1="375.9" x2="208.0" y2="377.4" stroke="#4860f0"/>
<line x1="195.9" y1="365.4" x2="196.4" y2="366.4" stroke="#3048e8"/>
<line x1="209.0" y1="384.1" x2="210.2" y2="385.9" stroke="#2840d8"/>
<line x1="216.0" y1="374.2" x2="216.9" y2="375.5" stroke="#2038e0"/>
<line x1="241.1" y1="368.8" x2="241.6" y2="370.4" stroke="#2038e0"/>
<line x1="195.7" y1="378.9" x2="195.5" y2="380.1" stroke="#3048e8"/>
<line x1="217.9" y1="396.1" x2="216.6" y2="397.6" stroke="#3048e8"/>
<line x1="182.9" y1="351.0" x2="183.9" y2="352.9" stroke="#2038e0"/>
<line x1="184.1" y1="365.2" x2="185.4" y2="367.1" stroke="#2038e0"/>
<line x1="185.7" y1="348.2" x2="186.8" y2="349.1" stroke="#2038e0"/>
<line x1="183.7" y1="362.7" x2="182.8" y2="363.8" stroke="#3048e8"/>
<line x1="183.7" y1="347.5" x2="184.6" y2="348.4" stroke="#2038e0"/>
<line x1="184.9" y1="359.2" x2="183.6" y2="360.9" stroke="#2038e0"/>
<line x1="186.1" y1="362.3" x2="187.1" y2="363.7" stroke="#3048e8"/>
<line x1="185.8" y1="355.1" x2="186.9" y2="355.9" stroke="#4860f0"/>
<line x1="182.4" y1="362.3" x2="181.3" y2="364.1" stroke="#3048e8"/>
<line x1="184.6" y1="360.8" x2="185.7" y2="362.6" stroke="#4860f0"/>
<line x1="183.5" y1="359.1" x2="185.1" y2="360.4" stroke="#2038e0"/>
<line x1="182.6" y1="353.0" x2="182.6" y2="354.4" stroke="#4860f0"/>
<line x1="243.0" y1="356.5" x2="243.3" y2="357.6" stroke="#3048e8"/>
<line x1="245.0" y1="348.3" x2="244.0" y2="349.3" stroke="#3048e8"/>
<line x1="244.5" y1="354.6" x2="244.9" y2="355.8" stroke="#3048e8"/>
<line x1="244.1" y1="351.1" x2="245.4" y2="352.5" stroke="#2840d8"/>
<line x1="243.9" y1="354.4" x2="244.1" y2="356.3" stroke="#2038e0"/>
<line x1="244.7" y1="348.3" x2="244.6" y2="349.9" stroke="#3048e8"/>
<line x1="241.6" y1="346.7" x2="241.9" y2="348.9" stroke="#4860f0"/>
<line x1="207.5" y1="405.5" x2="210" y2="406" stroke="#e03030"/>
<line x1="208" y1="389" x2="210" y2="391" stroke="#e04040"/>
</g>
<rect x="334.4" y="225.2" width="196.65" height="171.7" fill="none" stroke="#2a2a2a" stroke-width="1.25"/>
<path d="M334.4,396.9v-3.6M350.8,396.9v-2.2M367.2,396.9v-3.6M383.6,396.9v-2.2M399.9,396.9v-3.6M416.3,396.9v-2.2M432.7,396.9v-3.6M449.1,396.9v-2.2M465.5,396.9v-3.6M481.9,396.9v-2.2M498.3,396.9v-3.6M514.7,396.9v-2.2M531.0,396.9v-3.6M334.4,396.9h3.6M334.4,381.2h2.2M334.4,365.5h3.6M334.4,349.9h2.2M334.4,334.2h3.6M334.4,318.5h2.2M334.4,302.8h3.6M334.4,287.2h2.2M334.4,271.5h3.6M334.4,255.8h2.2M334.4,240.1h3.6" stroke="#2a2a2a" stroke-width="1.05" fill="none"/>
<text x="334.4" y="410.3" font-size="10.5" text-anchor="middle" font-weight="normal" font-style="normal" fill="#111" >0.0</text>
<text x="367.2" y="410.3" font-size="10.5" text-anchor="middle" font-weight="normal" font-style="normal" fill="#111" >0.5</text>
<text x="399.9" y="410.3" font-size="10.5" text-anchor="middle" font-weight="normal" font-style="normal" fill="#111" >1.0</text>
<text x="432.7" y="410.3" font-size="10.5" text-anchor="middle" font-weight="normal" font-style="normal" fill="#111" >1.5</text>
<text x="465.5" y="410.3" font-size="10.5" text-anchor="middle" font-weight="normal" font-style="normal" fill="#111" >2.0</text>
<text x="498.3" y="410.3" font-size="10.5" text-anchor="middle" font-weight="normal" font-style="normal" fill="#111" >2.5</text>
<text x="531.0" y="410.3" font-size="10.5" text-anchor="middle" font-weight="normal" font-style="normal" fill="#111" >3.0</text>
<text x="329.3" y="400.4" font-size="10.5" text-anchor="end" font-weight="normal" font-style="normal" fill="#111" >0</text>
<text x="329.3" y="369.0" font-size="10.5" text-anchor="end" font-weight="normal" font-style="normal" fill="#111" >1</text>
<text x="329.3" y="337.7" font-size="10.5" text-anchor="end" font-weight="normal" font-style="normal" fill="#111" >2</text>
<text x="329.3" y="306.3" font-size="10.5" text-anchor="end" font-weight="normal" font-style="normal" fill="#111" >3</text>
<text x="329.3" y="275.0" font-size="10.5" text-anchor="end" font-weight="normal" font-style="normal" fill="#111" >4</text>
<text x="329.3" y="243.6" font-size="10.5" text-anchor="end" font-weight="normal" font-style="normal" fill="#111" >5</text>
<text x="432.5" y="422.8" font-size="10.5" text-anchor="middle" font-weight="normal" font-style="normal" fill="#111" >Time (s)</text>
<text transform="translate(315.2,306.8) rotate(-90)" font-size="10.5" text-anchor="middle" fill="#111">Particle kinetic energy (J)</text>
<text x="334.8" y="222.0" font-size="10.5" text-anchor="start" font-weight="normal" font-style="normal" fill="#111" >10<tspan font-size="6.3" dy="-3.8">-3</tspan></text>
<polyline points="334.4,396.9 337.6,396.3 339.8,386.3 346.8,333.8 351.3,303.8 357.5,315 363.8,323.8 369.5,333 375,341.3 378,338.8 381.3,347 383.8,343.8 385.5,350 387.5,343 390,351.3 393.8,352.5 400,350 405,345.5 408.8,338.8 411.3,340 416.3,336.3 423,336.3 427.5,330 432.5,327 437.5,322.5 440.5,318.8 443.8,313.8 447.5,312.5 453,311.3 458.8,311.3 465,316.3 471.3,319.5 477.5,322.5 483.8,327 489.5,330 495,332.5 501.3,336.3 507.5,338.8 513.8,342.5 520,345 526.3,348.8 530,351.3" fill="none" stroke="#000" stroke-width="1.6" stroke-linejoin="round"/>
<rect x="337.8" y="384.2" width="4.1" height="4.1" fill="#000"/>
<rect x="343.9" y="337.8" width="4.1" height="4.1" fill="#000"/>
<rect x="349.2" y="301.8" width="4.1" height="4.1" fill="#000"/>
<rect x="355.4" y="312.9" width="4.1" height="4.1" fill="#000"/>
<rect x="361.6" y="321.6" width="4.1" height="4.1" fill="#000"/>
<rect x="367.9" y="331.6" width="4.1" height="4.1" fill="#000"/>
<rect x="374.1" y="338.3" width="4.1" height="4.1" fill="#000"/>
<rect x="380.2" y="343.7" width="4.1" height="4.1" fill="#000"/>
<rect x="386.4" y="344.3" width="4.1" height="4.1" fill="#000"/>
<rect x="392.6" y="350.1" width="4.1" height="4.1" fill="#000"/>
<rect x="398.9" y="347.1" width="4.1" height="4.1" fill="#000"/>
<rect x="405.1" y="339.7" width="4.1" height="4.1" fill="#000"/>
<rect x="411.2" y="336.5" width="4.1" height="4.1" fill="#000"/>
<rect x="417.4" y="334.2" width="4.1" height="4.1" fill="#000"/>
<rect x="423.7" y="330.5" width="4.1" height="4.1" fill="#000"/>
<rect x="429.9" y="325.3" width="4.1" height="4.1" fill="#000"/>
<rect x="436.1" y="319.7" width="4.1" height="4.1" fill="#000"/>
<rect x="442.2" y="311.6" width="4.1" height="4.1" fill="#000"/>
<rect x="448.4" y="309.8" width="4.1" height="4.1" fill="#000"/>
<rect x="454.7" y="309.2" width="4.1" height="4.1" fill="#000"/>
<rect x="460.9" y="312.6" width="4.1" height="4.1" fill="#000"/>
<rect x="467.1" y="316.3" width="4.1" height="4.1" fill="#000"/>
<rect x="473.2" y="319.4" width="4.1" height="4.1" fill="#000"/>
<rect x="479.4" y="323.3" width="4.1" height="4.1" fill="#000"/>
<rect x="485.7" y="327.0" width="4.1" height="4.1" fill="#000"/>
<rect x="491.8" y="329.9" width="4.1" height="4.1" fill="#000"/>
<rect x="498.1" y="333.5" width="4.1" height="4.1" fill="#000"/>
<rect x="504.2" y="336.3" width="4.1" height="4.1" fill="#000"/>
<rect x="510.4" y="339.7" width="4.1" height="4.1" fill="#000"/>
<rect x="516.7" y="342.4" width="4.1" height="4.1" fill="#000"/>
<rect x="522.9" y="345.9" width="4.1" height="4.1" fill="#000"/>
<polyline points="334.4,396.9 337.6,396.3 339.8,386.3 346.4,325 351.3,291.3 358,298 363.8,307.5 369.5,315 375.8,322.5 382,331.3 385.5,332.5 388,327.5 391.3,336.3 394.3,339.3 397,336.3 400,328 403.8,336.3 407.5,327.5 409.5,330 412,327.5 415,320 418,312.5 420.5,321.3 423.8,330 430,327 433.8,323.8 440,320 442,310 445,317.5 448,318.8 450.5,313.8 453.8,319.5 459.5,321.3 465.5,325 471.3,327.5 477.5,331.3 483.8,332 490,332.5 496.3,334.5 501.3,336.3 507.5,338.8 513.8,342 520,345.5 526.3,348.8 530,352" fill="none" stroke="#ff0000" stroke-width="1.6" stroke-linejoin="round"/>
<circle cx="339.8" cy="386.3" r="2.3" fill="#ff0000"/>
<circle cx="346.0" cy="328.7" r="2.3" fill="#ff0000"/>
<circle cx="351.3" cy="291.3" r="2.3" fill="#ff0000"/>
<circle cx="357.5" cy="297.5" r="2.3" fill="#ff0000"/>
<circle cx="363.7" cy="307.3" r="2.3" fill="#ff0000"/>
<circle cx="369.9" cy="315.5" r="2.3" fill="#ff0000"/>
<circle cx="376.1" cy="322.9" r="2.3" fill="#ff0000"/>
<circle cx="382.3" cy="331.4" r="2.3" fill="#ff0000"/>
<circle cx="388.5" cy="328.8" r="2.3" fill="#ff0000"/>
<circle cx="394.7" cy="338.9" r="2.3" fill="#ff0000"/>
<circle cx="400.9" cy="330.0" r="2.3" fill="#ff0000"/>
<circle cx="407.1" cy="328.5" r="2.3" fill="#ff0000"/>
<circle cx="413.3" cy="324.2" r="2.3" fill="#ff0000"/>
<circle cx="419.5" cy="317.8" r="2.3" fill="#ff0000"/>
<circle cx="425.7" cy="329.1" r="2.3" fill="#ff0000"/>
<circle cx="431.9" cy="325.4" r="2.3" fill="#ff0000"/>
<circle cx="438.1" cy="321.2" r="2.3" fill="#ff0000"/>
<circle cx="444.3" cy="315.8" r="2.3" fill="#ff0000"/>
<circle cx="450.5" cy="313.8" r="2.3" fill="#ff0000"/>
<circle cx="456.7" cy="320.4" r="2.3" fill="#ff0000"/>
<circle cx="462.9" cy="323.4" r="2.3" fill="#ff0000"/>
<circle cx="469.1" cy="326.6" r="2.3" fill="#ff0000"/>
<circle cx="475.3" cy="330.0" r="2.3" fill="#ff0000"/>
<circle cx="481.5" cy="331.7" r="2.3" fill="#ff0000"/>
<circle cx="487.7" cy="332.3" r="2.3" fill="#ff0000"/>
<circle cx="493.9" cy="333.7" r="2.3" fill="#ff0000"/>
<circle cx="500.1" cy="335.9" r="2.3" fill="#ff0000"/>
<circle cx="506.3" cy="338.3" r="2.3" fill="#ff0000"/>
<circle cx="512.5" cy="341.3" r="2.3" fill="#ff0000"/>
<circle cx="518.7" cy="344.8" r="2.3" fill="#ff0000"/>
<circle cx="524.9" cy="348.1" r="2.3" fill="#ff0000"/>
<polyline points="334.4,396.9 337.6,396.3 339.8,387.5 345.9,323.5 348.8,295 351.6,281 357,283.5 363,287.5 367.5,293.8 372.5,301.3 376.3,303.8 381.3,305 385.5,316.3 388,315 391.3,307.5 393.8,310 397.5,318.8 400.6,296 403,305.4 406.1,305.4 410.1,297.5 411.9,309.4 415.7,295.5 418.8,305.8 421.2,295.6 423.6,296 426,310.2 427.6,317 429.4,317 433.2,300.7 435.5,318.4 437.9,322.3 441.1,315.8 443.5,322.9 447.5,327.7 450.6,328.5 453,328.8 456.3,321.3 458.8,331.3 462,336.3 467.5,335.5 472.5,335 475,332.5 478.8,338.8 483.8,340 490,340 496.3,339.5 502.5,338.8 507.5,340 512.5,342.5 517.5,345 520.5,336.3 523,347.5 526.3,349.5 530,351.3" fill="none" stroke="#0000ff" stroke-width="1.6" stroke-linejoin="round"/>
<polygon points="339.8,384.5 337.2,389.3 342.4,389.3" fill="#0000ff"/>
<polygon points="346.0,319.5 343.4,324.3 348.6,324.3" fill="#0000ff"/>
<polygon points="351.3,279.5 348.7,284.3 353.9,284.3" fill="#0000ff"/>
<polygon points="357.5,280.8 354.9,285.6 360.1,285.6" fill="#0000ff"/>
<polygon points="363.7,285.5 361.1,290.3 366.3,290.3" fill="#0000ff"/>
<polygon points="369.9,294.4 367.3,299.2 372.5,299.2" fill="#0000ff"/>
<polygon points="376.1,300.7 373.5,305.5 378.7,305.5" fill="#0000ff"/>
<polygon points="382.3,304.7 379.7,309.5 384.9,309.5" fill="#0000ff"/>
<polygon points="388.5,310.9 385.9,315.7 391.1,315.7" fill="#0000ff"/>
<polygon points="394.7,309.1 392.1,313.9 397.3,313.9" fill="#0000ff"/>
<polygon points="400.9,294.2 398.3,299.0 403.5,299.0" fill="#0000ff"/>
<polygon points="407.1,300.4 404.5,305.2 409.7,305.2" fill="#0000ff"/>
<polygon points="413.3,301.3 410.7,306.1 415.9,306.1" fill="#0000ff"/>
<polygon points="419.5,299.8 416.9,304.6 422.1,304.6" fill="#0000ff"/>
<polygon points="425.7,305.4 423.1,310.2 428.3,310.2" fill="#0000ff"/>
<polygon points="431.9,303.3 429.3,308.1 434.5,308.1" fill="#0000ff"/>
<polygon points="438.1,318.9 435.5,323.7 440.7,323.7" fill="#0000ff"/>
<polygon points="444.3,320.9 441.7,325.7 446.9,325.7" fill="#0000ff"/>
<polygon points="450.5,325.5 447.9,330.3 453.1,330.3" fill="#0000ff"/>
<polygon points="456.7,319.9 454.1,324.7 459.3,324.7" fill="#0000ff"/>
<polygon points="462.9,333.2 460.3,338.0 465.5,338.0" fill="#0000ff"/>
<polygon points="469.1,332.3 466.5,337.1 471.7,337.1" fill="#0000ff"/>
<polygon points="475.3,330.0 472.7,334.8 477.9,334.8" fill="#0000ff"/>
<polygon points="481.5,336.4 478.9,341.2 484.1,341.2" fill="#0000ff"/>
<polygon points="487.7,337.0 485.1,341.8 490.3,341.8" fill="#0000ff"/>
<polygon points="493.9,336.7 491.3,341.5 496.5,341.5" fill="#0000ff"/>
<polygon points="500.1,336.1 497.5,340.9 502.7,340.9" fill="#0000ff"/>
<polygon points="506.3,336.7 503.7,341.5 508.9,341.5" fill="#0000ff"/>
<polygon points="512.5,339.5 509.9,344.3 515.1,344.3" fill="#0000ff"/>
<polygon points="518.7,338.5 516.1,343.3 521.3,343.3" fill="#0000ff"/>
<polygon points="524.9,345.7 522.3,350.5 527.5,350.5" fill="#0000ff"/>
<polyline points="334.4,396.9 337.6,396.3 339.8,388.8 345.8,311 348.3,283 351,267.4 357,264.6 363,260.6 367,260 370,261 375,267 377.4,258 381,272 384.4,266 388.4,275 393,270 398,267.4 400,266 401.6,275 404,256 406,263 407,274 411,269 413,277 415,291 417.5,295 419.6,292 422,294 425,289 426.4,297 428.8,298.8 431.5,297.5 433,317.5 435.5,323.8 438.8,325 442,325 445,332.5 448,336.3 451.3,335 453.8,328.8 455.5,338.8 457.5,335 459.5,343.8 462.5,341.3 466.3,341.3 470,343.8 473,330 476.3,346.3 482.5,346.3 488.8,346.3 495,346.3 500,346.3 506.3,348.8 512.5,351.3 516.3,352.5 518,343.8 519.5,353.8 525,355.5 530,356.3" fill="none" stroke="#008000" stroke-width="1.6" stroke-linejoin="round"/>
<polygon points="339.8,391.8 337.2,387.0 342.4,387.0" fill="#008000"/>
<polygon points="346.0,311.8 343.4,307.0 348.6,307.0" fill="#008000"/>
<polygon points="351.3,270.3 348.7,265.5 353.9,265.5" fill="#008000"/>
<polygon points="357.5,267.3 354.9,262.5 360.1,262.5" fill="#008000"/>
<polygon points="363.7,263.5 361.1,258.7 366.3,258.7" fill="#008000"/>
<polygon points="369.9,264.0 367.3,259.2 372.5,259.2" fill="#008000"/>
<polygon points="376.1,265.9 373.5,261.1 378.7,261.1" fill="#008000"/>
<polygon points="382.3,272.7 379.7,267.9 384.9,267.9" fill="#008000"/>
<polygon points="388.5,277.9 385.9,273.1 391.1,273.1" fill="#008000"/>
<polygon points="394.7,272.1 392.1,267.3 397.3,267.3" fill="#008000"/>
<polygon points="400.9,274.1 398.3,269.3 403.5,269.3" fill="#008000"/>
<polygon points="407.1,276.9 404.5,272.1 409.7,272.1" fill="#008000"/>
<polygon points="413.3,282.1 410.7,277.3 415.9,277.3" fill="#008000"/>
<polygon points="419.5,295.1 416.9,290.3 422.1,290.3" fill="#008000"/>
<polygon points="425.7,296.0 423.1,291.2 428.3,291.2" fill="#008000"/>
<polygon points="431.9,305.8 429.3,301.0 434.5,301.0" fill="#008000"/>
<polygon points="438.1,327.7 435.5,322.9 440.7,322.9" fill="#008000"/>
<polygon points="444.3,333.8 441.7,328.9 446.9,328.9" fill="#008000"/>
<polygon points="450.5,338.3 447.9,333.5 453.1,333.5" fill="#008000"/>
<polygon points="456.7,339.5 454.1,334.7 459.3,334.7" fill="#008000"/>
<polygon points="462.9,344.3 460.3,339.5 465.5,339.5" fill="#008000"/>
<polygon points="469.1,346.2 466.5,341.4 471.7,341.4" fill="#008000"/>
<polygon points="475.3,344.4 472.7,339.6 477.9,339.6" fill="#008000"/>
<polygon points="481.5,349.3 478.9,344.5 484.1,344.5" fill="#008000"/>
<polygon points="487.7,349.3 485.1,344.5 490.3,344.5" fill="#008000"/>
<polygon points="493.9,349.3 491.3,344.5 496.5,344.5" fill="#008000"/>
<polygon points="500.1,349.3 497.5,344.5 502.7,344.5" fill="#008000"/>
<polygon points="506.3,351.8 503.7,347.0 508.9,347.0" fill="#008000"/>
<polygon points="512.5,354.3 509.9,349.5 515.1,349.5" fill="#008000"/>
<polygon points="518.7,351.5 516.1,346.7 521.3,346.7" fill="#008000"/>
<polygon points="524.9,358.5 522.3,353.7 527.5,353.7" fill="#008000"/>
<line x1="360.8" y1="233.8" x2="385.3" y2="233.8" stroke="#000" stroke-width="1.6"/>
<rect x="371.15000000000003" y="231.9" width="3.8" height="3.8" fill="#000"/>
<text x="388.2" y="237.2" font-size="10.8" text-anchor="start" font-weight="normal" font-style="normal" fill="#111" ><tspan font-style="italic">ρ</tspan>=800 kg/m<tspan font-size="7" dy="-3.6">3</tspan></text>
<line x1="444.5" y1="233.8" x2="469.2" y2="233.8" stroke="#ff0000" stroke-width="1.6"/>
<circle cx="456.85" cy="233.8" r="2.1" fill="#ff0000"/>
<text x="472.0" y="237.2" font-size="10.8" text-anchor="start" font-weight="normal" font-style="normal" fill="#111" ><tspan font-style="italic">ρ</tspan>=850 kg/m<tspan font-size="7" dy="-3.6">3</tspan></text>
<line x1="360.8" y1="248.5" x2="385.3" y2="248.5" stroke="#0000ff" stroke-width="1.6"/>
<polygon points="373.05,245.7 370.65000000000003,250.1 375.45,250.1" fill="#0000ff"/>
<text x="388.2" y="251.9" font-size="10.8" text-anchor="start" font-weight="normal" font-style="normal" fill="#111" ><tspan font-style="italic">ρ</tspan>=900 kg/m<tspan font-size="7" dy="-3.6">3</tspan></text>
<line x1="444.5" y1="248.5" x2="469.2" y2="248.5" stroke="#008000" stroke-width="1.6"/>
<polygon points="456.85,251.3 454.45000000000005,246.9 459.25,246.9" fill="#008000"/>
<text x="472.0" y="251.9" font-size="10.8" text-anchor="start" font-weight="normal" font-style="normal" fill="#111" ><tspan font-style="italic">ρ</tspan>=950 kg/m<tspan font-size="7" dy="-3.6">3</tspan></text>
</svg></body></html>
